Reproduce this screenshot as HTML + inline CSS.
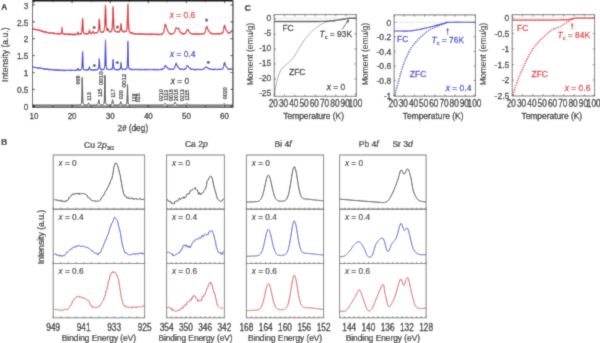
<!DOCTYPE html>
<html><head><meta charset="utf-8"><style>
html,body{margin:0;padding:0;background:#fff;}
svg{display:block;}
text{font-family:"Liberation Sans",sans-serif;}
</style></head><body>
<svg width="600" height="343" viewBox="0 0 600 343">
<defs><filter id="bl" x="0" y="0" width="600" height="343" filterUnits="userSpaceOnUse"><feConvolveMatrix order="3" kernelMatrix="1 3 1 3 16 3 1 3 1" divisor="32.0" edgeMode="duplicate"/></filter></defs>
<rect x="0" y="0" width="600" height="343" fill="#fff"/>
<g filter="url(#bl)">
<rect x="0" y="0" width="600" height="343" fill="#fff"/>
<text transform="translate(1.3 9.7) scale(0.92 1)" font-size="9.0" text-anchor="start" fill="#111" font-weight="bold" stroke="#111" stroke-width="0.24">A</text>
<line x1="32.5" y1="106" x2="232.9" y2="106" stroke="#b0b0b0" stroke-width="1.9"/>
<path d="M33 104.96 L33.3 104.91 L33.6 105.03 L33.9 104.9 L34.2 105.01 L34.5 104.97 L34.8 104.89 L35.1 105 L35.4 104.89 L35.7 104.98 L36 104.9 L36.3 104.9 L36.6 104.98 L36.9 105.08 L37.2 104.91 L37.5 104.93 L37.8 105.03 L38.1 105.11 L38.4 105.02 L38.7 104.97 L39 105.11 L39.3 104.89 L39.6 105.08 L39.9 104.95 L40.2 104.91 L40.5 104.91 L40.8 104.95 L41.1 105.07 L41.4 104.92 L41.7 105.02 L42 105.03 L42.3 104.97 L42.6 105.01 L42.9 104.89 L43.2 104.89 L43.5 104.93 L43.8 105.04 L44.1 104.98 L44.4 104.95 L44.7 105.02 L45 104.99 L45.3 104.95 L45.6 105.07 L45.9 105.05 L46.2 104.94 L46.5 105.02 L46.8 105 L47.1 105.09 L47.4 105.05 L47.7 104.95 L48 105.11 L48.3 104.91 L48.6 104.98 L48.9 105.06 L49.2 104.91 L49.5 104.99 L49.8 104.89 L50.1 105.04 L50.4 105.06 L50.7 105.01 L51 105.09 L51.3 104.95 L51.6 105.04 L51.9 105.02 L52.2 105.02 L52.5 104.99 L52.8 105.08 L53.1 105.1 L53.4 104.99 L53.7 105.04 L54 104.89 L54.3 105.05 L54.6 105.03 L54.9 105.12 L55.2 105.07 L55.5 104.94 L55.8 104.97 L56.1 105.04 L56.4 104.88 L56.7 104.99 L57 104.92 L57.3 104.9 L57.6 104.89 L57.9 105.06 L58.2 104.91 L58.5 104.94 L58.8 104.97 L59.1 105.08 L59.4 104.9 L59.7 104.98 L60 105.01 L60.3 105.09 L60.6 105.07 L60.9 105.08 L61.2 104.94 L61.5 104.97 L61.8 104.96 L62.1 105.09 L62.4 105.1 L62.7 104.91 L63 104.92 L63.3 104.93 L63.6 104.93 L63.9 104.99 L64.2 105.02 L64.5 104.94 L64.8 104.87 L65.1 104.97 L65.4 104.96 L65.7 105.01 L66 105.1 L66.3 105.04 L66.6 105 L66.9 105.02 L67.2 105.03 L67.5 104.88 L67.8 105.09 L68.1 105.06 L68.4 105.08 L68.7 105.06 L69 104.96 L69.3 104.97 L69.6 104.89 L69.9 105.02 L70.2 104.88 L70.5 104.88 L70.8 104.92 L71.1 104.91 L71.4 104.95 L71.7 104.88 L72 104.86 L72.3 104.9 L72.6 104.89 L72.9 104.95 L73.2 104.87 L73.5 105.07 L73.8 105.01 L74.1 104.89 L74.4 104.92 L74.7 104.94 L75 104.94 L75.3 104.88 L75.6 105.05 L75.9 105.08 L76.2 104.95 L76.5 104.95 L76.8 104.85 L77.1 104.85 L77.4 104.91 L77.7 104.88 L78 105.01 L78.3 104.84 L78.6 104.79 L78.9 105 L79.2 104.87 L79.5 104.75 L79.8 104.81 L80.1 104.63 L80.4 104.67 L80.7 104.65 L81 104.39 L81.3 103.91 L81.6 102.46 L81.9 95.28 L82.2 77.48 L82.5 83.58 L82.8 99.01 L83.1 103.27 L83.4 104.01 L83.7 104.32 L84 104.65 L84.3 104.8 L84.6 104.84 L84.9 104.87 L85.2 104.91 L85.5 104.91 L85.8 104.8 L86.1 104.88 L86.4 104.84 L86.7 104.76 L87 104.74 L87.3 104.77 L87.6 104.68 L87.9 104.51 L88.2 103.96 L88.5 103.01 L88.8 102.93 L89.1 103.7 L89.4 104.42 L89.7 104.66 L90 104.76 L90.3 104.81 L90.6 104.83 L90.9 104.84 L91.2 104.96 L91.5 105.03 L91.8 105.02 L92.1 104.94 L92.4 104.98 L92.7 105.02 L93 104.85 L93.3 104.98 L93.6 105.04 L93.9 105.01 L94.2 105 L94.5 104.93 L94.8 104.85 L95.1 104.99 L95.4 104.88 L95.7 104.98 L96 105.01 L96.3 104.85 L96.6 104.82 L96.9 104.91 L97.2 104.8 L97.5 104.54 L97.8 104.19 L98.1 103.26 L98.4 101.6 L98.7 99.71 L99 100.02 L99.3 102.27 L99.6 103.85 L99.9 104.44 L100.2 104.6 L100.5 104.73 L100.8 104.68 L101.1 104.67 L101.4 104.91 L101.7 104.83 L102 104.78 L102.3 104.85 L102.6 104.69 L102.9 104.72 L103.2 104.59 L103.5 104.25 L103.8 103.89 L104.1 102.99 L104.4 98.46 L104.7 81.87 L105 75.38 L105.3 94.53 L105.6 102.21 L105.9 103.86 L106.2 104.2 L106.5 104.46 L106.8 104.63 L107.1 104.8 L107.4 104.74 L107.7 104.89 L108 104.82 L108.3 104.85 L108.6 104.86 L108.9 104.74 L109.2 104.85 L109.5 104.79 L109.8 104.74 L110.1 104.91 L110.4 104.74 L110.7 104.78 L111 104.78 L111.3 104.62 L111.6 104.23 L111.9 103.35 L112.2 101.52 L112.5 99.71 L112.8 100.03 L113.1 102.23 L113.4 103.7 L113.7 104.38 L114 104.74 L114.3 104.77 L114.6 104.84 L114.9 104.92 L115.2 104.98 L115.5 104.88 L115.8 104.93 L116.1 104.91 L116.4 104.92 L116.7 104.97 L117 104.91 L117.3 104.93 L117.6 104.91 L117.9 105.02 L118.2 104.95 L118.5 104.98 L118.8 104.97 L119.1 104.77 L119.4 104.78 L119.7 104.69 L120 104.16 L120.3 102.91 L120.6 101.62 L120.9 101.7 L121.2 102.89 L121.5 104.01 L121.8 104.48 L122.1 104.8 L122.4 104.89 L122.7 104.95 L123 104.79 L123.3 104.93 L123.6 104.92 L123.9 104.8 L124.2 104.97 L124.5 104.98 L124.8 104.78 L125.1 104.93 L125.4 104.76 L125.7 104.72 L126 104.73 L126.3 104.51 L126.6 103.94 L126.9 102.38 L127.2 94.59 L127.5 84.15 L127.8 94.51 L128.1 102.35 L128.4 104.08 L128.7 104.32 L129 104.64 L129.3 104.72 L129.6 104.69 L129.9 104.8 L130.2 104.9 L130.5 104.9 L130.8 104.81 L131.1 105.04 L131.4 105 L131.7 105.06 L132 104.85 L132.3 104.9 L132.6 104.85 L132.9 105.03 L133.2 104.91 L133.5 104.88 L133.8 104.95 L134.1 105.07 L134.4 105.05 L134.7 104.92 L135 104.89 L135.3 105.08 L135.6 105 L135.9 105.03 L136.2 104.88 L136.5 104.88 L136.8 105.03 L137.1 104.97 L137.4 104.88 L137.7 105.09 L138 105.02 L138.3 105.06 L138.6 104.89 L138.9 105.07 L139.2 104.88 L139.5 105.08 L139.8 104.98 L140.1 104.95 L140.4 105 L140.7 105.09 L141 104.93 L141.3 104.9 L141.6 105 L141.9 104.93 L142.2 104.9 L142.5 104.91 L142.8 104.88 L143.1 104.92 L143.4 104.95 L143.7 104.94 L144 105.05 L144.3 104.94 L144.6 104.99 L144.9 104.91 L145.2 104.96 L145.5 104.88 L145.8 104.93 L146.1 104.88 L146.4 105.05 L146.7 105 L147 104.92 L147.3 104.99 L147.6 105.1 L147.9 104.9 L148.2 105.07 L148.5 104.98 L148.8 104.99 L149.1 105.07 L149.4 104.97 L149.7 104.99 L150 105.04 L150.3 105.11 L150.6 104.95 L150.9 105.07 L151.2 105.04 L151.5 105.02 L151.8 104.97 L152.1 104.95 L152.4 104.88 L152.7 104.9 L153 104.89 L153.3 105.05 L153.6 104.93 L153.9 104.91 L154.2 104.89 L154.5 105.07 L154.8 105.08 L155.1 105.03 L155.4 104.94 L155.7 104.93 L156 104.94 L156.3 104.98 L156.6 104.9 L156.9 104.97 L157.2 104.93 L157.5 105.1 L157.8 105.1 L158.1 104.99 L158.4 104.92 L158.7 105.09 L159 104.93 L159.3 104.94 L159.6 104.85 L159.9 104.94 L160.2 104.96 L160.5 104.97 L160.8 104.89 L161.1 104.96 L161.4 104.83 L161.7 104.89 L162 104.83 L162.3 104.9 L162.6 104.79 L162.9 104.75 L163.2 104.76 L163.5 104.63 L163.8 104.5 L164.1 104.14 L164.4 103.73 L164.7 103.24 L165 103.04 L165.3 103.29 L165.6 103.64 L165.9 104.09 L166.2 104.59 L166.5 104.61 L166.8 104.86 L167.1 104.9 L167.4 104.78 L167.7 104.99 L168 105.02 L168.3 104.96 L168.6 104.99 L168.9 105.01 L169.2 104.86 L169.5 104.95 L169.8 104.94 L170.1 105.02 L170.4 105.01 L170.7 105.02 L171 104.95 L171.3 105.02 L171.6 104.96 L171.9 104.95 L172.2 104.83 L172.5 104.75 L172.8 104.74 L173.1 104.73 L173.4 104.54 L173.7 104.48 L174 103.99 L174.3 103.4 L174.6 102.72 L174.9 102.27 L175.2 102.33 L175.5 102.79 L175.8 103.66 L176.1 104.2 L176.4 104.5 L176.7 104.7 L177 104.83 L177.3 104.74 L177.6 104.94 L177.9 104.84 L178.2 104.81 L178.5 104.87 L178.8 104.99 L179.1 104.87 L179.4 105.01 L179.7 105.07 L180 104.95 L180.3 104.93 L180.6 104.95 L180.9 105.01 L181.2 105.03 L181.5 104.99 L181.8 105 L182.1 104.86 L182.4 104.88 L182.7 104.9 L183 105.01 L183.3 104.9 L183.6 104.96 L183.9 104.82 L184.2 104.82 L184.5 104.85 L184.8 104.91 L185.1 104.85 L185.4 104.71 L185.7 104.4 L186 104.13 L186.3 103.75 L186.6 103.5 L186.9 103.48 L187.2 103.97 L187.5 104.17 L187.8 104.65 L188.1 104.83 L188.4 104.72 L188.7 104.88 L189 104.99 L189.3 105.05 L189.6 104.93 L189.9 104.9 L190.2 104.89 L190.5 105.07 L190.8 104.9 L191.1 104.99 L191.4 104.89 L191.7 104.98 L192 105.09 L192.3 104.89 L192.6 105.06 L192.9 104.99 L193.2 105.08 L193.5 105.04 L193.8 104.92 L194.1 105.08 L194.4 104.99 L194.7 104.88 L195 104.87 L195.3 104.99 L195.6 104.98 L195.9 104.94 L196.2 104.91 L196.5 104.95 L196.8 104.95 L197.1 105.07 L197.4 104.87 L197.7 105.05 L198 105.07 L198.3 104.9 L198.6 105.1 L198.9 105.05 L199.2 105.09 L199.5 104.94 L199.8 104.96 L200.1 104.97 L200.4 105.11 L200.7 105.02 L201 104.96 L201.3 104.98 L201.6 104.94 L201.9 104.89 L202.2 104.9 L202.5 105.08 L202.8 104.94 L203.1 105.1 L203.4 104.94 L203.7 104.94 L204 105 L204.3 104.92 L204.6 104.97 L204.9 105.11 L205.2 105.09 L205.5 105.07 L205.8 105.03 L206.1 105.1 L206.4 105.1 L206.7 105.01 L207 105.05 L207.3 104.89 L207.6 105.05 L207.9 104.98 L208.2 105.06 L208.5 105.03 L208.8 104.94 L209.1 104.89 L209.4 105.1 L209.7 104.91 L210 104.99 L210.3 104.96 L210.6 104.95 L210.9 105.05 L211.2 105.11 L211.5 104.94 L211.8 105.03 L212.1 104.95 L212.4 105.01 L212.7 104.97 L213 104.91 L213.3 104.91 L213.6 104.92 L213.9 105.09 L214.2 104.99 L214.5 104.93 L214.8 105.09 L215.1 105.11 L215.4 104.98 L215.7 104.91 L216 104.92 L216.3 104.89 L216.6 104.95 L216.9 104.89 L217.2 104.93 L217.5 104.93 L217.8 105 L218.1 105.08 L218.4 105.05 L218.7 104.96 L219 104.96 L219.3 104.99 L219.6 104.95 L219.9 104.94 L220.2 104.87 L220.5 104.92 L220.8 105.08 L221.1 104.87 L221.4 104.95 L221.7 104.97 L222 105 L222.3 104.81 L222.6 104.76 L222.9 104.62 L223.2 104.43 L223.5 104.12 L223.8 103.87 L224.1 103.6 L224.4 103.66 L224.7 103.77 L225 104.14 L225.3 104.59 L225.6 104.83 L225.9 104.83 L226.2 104.92 L226.5 104.8 L226.8 104.91 L227.1 105.05 L227.4 105.04 L227.7 105.05 L228 105.08 L228.3 104.91 L228.6 104.88 L228.9 104.9 L229.2 104.99 L229.5 105.03 L229.8 105.09 L230.1 105.04 L230.4 105.02 L230.7 105.05 L231 104.98 L231.3 105 L231.6 104.88 L231.9 105.06 L232.2 104.93" fill="none" stroke="#2a2a2a" stroke-width="0.9" stroke-linejoin="round"/>
<path d="M33 67.49 L33.25 67.34 L33.5 67.13 L33.75 67.05 L34 67.17 L34.25 67.47 L34.5 67.55 L34.75 67.18 L35 67.19 L35.25 67.54 L35.5 67.62 L35.75 67.52 L36 67.44 L36.25 67.74 L36.5 67.36 L36.75 67.6 L37 67.75 L37.25 68.13 L37.5 67.95 L37.75 68.15 L38 67.9 L38.25 67.77 L38.5 67.82 L38.75 68.35 L39 68.21 L39.25 67.97 L39.5 67.8 L39.75 68.17 L40 68.33 L40.25 68.19 L40.5 68.11 L40.75 68.44 L41 68.65 L41.25 68.2 L41.5 68.1 L41.75 68.35 L42 68.44 L42.25 68.66 L42.5 68.36 L42.75 68.82 L43 68.81 L43.25 68.68 L43.5 68.51 L43.75 69.08 L44 68.66 L44.25 69.05 L44.5 68.67 L44.75 68.7 L45 69.12 L45.25 68.83 L45.5 69.32 L45.75 69.04 L46 68.86 L46.25 68.92 L46.5 69.09 L46.75 69.3 L47 69.54 L47.25 69.01 L47.5 69.22 L47.75 69.12 L48 69.67 L48.25 69.11 L48.5 69.06 L48.75 69.09 L49 69.34 L49.25 69.71 L49.5 69.72 L49.75 69.64 L50 69.84 L50.25 69.82 L50.5 69.42 L50.75 69.34 L51 69.88 L51.25 69.77 L51.5 69.29 L51.75 69.75 L52 69.57 L52.25 69.59 L52.5 69.58 L52.75 69.48 L53 69.39 L53.25 69.6 L53.5 69.67 L53.75 70.11 L54 69.55 L54.25 70.16 L54.5 69.65 L54.75 69.77 L55 70.12 L55.25 70.14 L55.5 69.89 L55.75 69.64 L56 69.96 L56.25 69.91 L56.5 70.31 L56.75 69.82 L57 69.96 L57.25 70.35 L57.5 69.77 L57.75 70.05 L58 70.35 L58.25 70.34 L58.5 69.85 L58.75 69.87 L59 69.91 L59.25 70.53 L59.5 70.08 L59.75 70.45 L60 70.57 L60.25 70.18 L60.5 70.14 L60.75 70.62 L61 70.38 L61.25 70.13 L61.5 70.45 L61.75 70.17 L62 70.15 L62.25 69.96 L62.5 70.49 L62.75 70.6 L63 70.4 L63.25 70.62 L63.5 69.98 L63.75 70.13 L64 70.3 L64.25 70.64 L64.5 70.64 L64.75 70.24 L65 70.15 L65.25 70.27 L65.5 70.32 L65.75 70.62 L66 70.1 L66.25 70.54 L66.5 70.49 L66.75 70.56 L67 70.52 L67.25 70.41 L67.5 70.21 L67.75 70.21 L68 70.24 L68.25 70.53 L68.5 70.04 L68.75 70.13 L69 70.52 L69.25 70.16 L69.5 70.04 L69.75 70.02 L70 70.38 L70.25 70.22 L70.5 70.68 L70.75 70.61 L71 70.69 L71.25 70.18 L71.5 70.06 L71.75 70.07 L72 70.35 L72.25 70.5 L72.5 70.31 L72.75 70.16 L73 70.29 L73.25 70.44 L73.5 70.47 L73.75 70.52 L74 70.59 L74.25 70.46 L74.5 70.08 L74.75 70.58 L75 70.2 L75.25 70.39 L75.5 70.25 L75.75 70.5 L76 70.11 L76.25 70.14 L76.5 70.12 L76.75 70.03 L77 70.49 L77.25 70.12 L77.5 69.48 L77.75 68.61 L78 68.35 L78.25 68.66 L78.5 69.36 L78.75 70.2 L79 70.22 L79.25 70.48 L79.5 69.86 L79.75 70.1 L80 70.32 L80.25 70.3 L80.5 70.29 L80.75 69.6 L81 69.66 L81.25 69.36 L81.5 69.09 L81.75 68.84 L82 65.99 L82.25 59.81 L82.5 51.29 L82.75 52.92 L83 61.08 L83.25 66.5 L83.5 68.9 L83.75 69.65 L84 69.32 L84.25 69.82 L84.5 69.93 L84.75 69.71 L85 69.86 L85.25 69.73 L85.5 69.8 L85.75 69.84 L86 70.09 L86.25 70.13 L86.5 69.82 L86.75 69.68 L87 69.9 L87.25 70.14 L87.5 69.78 L87.75 69.85 L88 69.74 L88.25 70.1 L88.5 69.82 L88.75 69.11 L89 68.16 L89.25 66.88 L89.5 66.76 L89.75 68.24 L90 68.97 L90.25 69.47 L90.5 69.97 L90.75 69.82 L91 69.76 L91.25 69.79 L91.5 70.25 L91.75 69.8 L92 69.98 L92.25 69.83 L92.5 69.87 L92.75 70.18 L93 70.26 L93.25 69.81 L93.5 69.69 L93.75 70.06 L94 69.68 L94.25 69.53 L94.5 70.15 L94.75 69.81 L95 70.07 L95.25 69.77 L95.5 70.09 L95.75 69.78 L96 69.56 L96.25 69.43 L96.5 69.79 L96.75 69.82 L97 69.97 L97.25 69.36 L97.5 69.67 L97.75 69.41 L98 69.37 L98.25 68.86 L98.5 68.24 L98.75 66.4 L99 62.76 L99.25 58.62 L99.5 60.67 L99.75 65.2 L100 68.07 L100.25 68.62 L100.5 68.93 L100.75 69.65 L101 69.76 L101.25 69.46 L101.5 69.19 L101.75 69.81 L102 69.44 L102.25 69.79 L102.5 69.57 L102.75 69.69 L103 69.18 L103.25 69.56 L103.5 69.08 L103.75 69.08 L104 69.19 L104.25 68.87 L104.5 67.78 L104.75 65.93 L105 60.28 L105.25 48.73 L105.5 40.14 L105.75 48.45 L106 60.17 L106.25 66.29 L106.5 68.27 L106.75 68.31 L107 68.99 L107.25 69.32 L107.5 68.94 L107.75 69.59 L108 69.15 L108.25 69.53 L108.5 69.53 L108.75 69.6 L109 69.4 L109.25 69.49 L109.5 69.61 L109.75 69.5 L110 69.66 L110.25 69.51 L110.5 69.49 L110.75 69.18 L111 69.57 L111.25 69.44 L111.5 69.19 L111.75 69.46 L112 69.27 L112.25 68.5 L112.5 66.73 L112.75 63.53 L113 59.41 L113.25 60.01 L113.5 64.32 L113.75 67.12 L114 68.65 L114.25 69.13 L114.5 68.98 L114.75 69.49 L115 69.16 L115.25 69.66 L115.5 69.72 L115.75 69.55 L116 69.25 L116.25 69.57 L116.5 69.49 L116.75 69.9 L117 69.33 L117.25 69.83 L117.5 69.93 L117.75 69.74 L118 69.79 L118.25 69.35 L118.5 69.89 L118.75 69.53 L119 69.83 L119.25 69.76 L119.5 69.18 L119.75 69.53 L120 69.43 L120.25 68.26 L120.5 66.95 L120.75 64.57 L121 62.37 L121.25 64.66 L121.5 66.88 L121.75 68.77 L122 68.85 L122.25 69.29 L122.5 69.67 L122.75 69.21 L123 69.28 L123.25 69.47 L123.5 69.34 L123.75 69.15 L124 69.24 L124.25 69.22 L124.5 69.74 L124.75 69.54 L125 69.66 L125.25 69.11 L125.5 69.49 L125.75 68.95 L126 69.13 L126.25 69.05 L126.5 68.61 L126.75 68.56 L127 67.36 L127.25 64.26 L127.5 55.99 L127.75 42.55 L128 41.2 L128.25 53.34 L128.5 62.96 L128.75 67.17 L129 68 L129.25 68.98 L129.5 68.96 L129.75 68.98 L130 69.38 L130.25 69.23 L130.5 69.11 L130.75 69.55 L131 69.09 L131.25 69.66 L131.5 69.29 L131.75 69.57 L132 69.83 L132.25 69.56 L132.5 69.62 L132.75 69.39 L133 69.17 L133.25 69.2 L133.5 69.29 L133.75 69.62 L134 69.49 L134.25 69.55 L134.5 69.82 L134.75 69.29 L135 69.36 L135.25 69.66 L135.5 69.22 L135.75 69.21 L136 69.46 L136.25 69.28 L136.5 69.46 L136.75 69.37 L137 69.62 L137.25 69.63 L137.5 69.36 L137.75 69.65 L138 69.55 L138.25 69.31 L138.5 69.87 L138.75 69.39 L139 69.32 L139.25 69.29 L139.5 69.67 L139.75 69.83 L140 69.77 L140.25 69.5 L140.5 69.41 L140.75 69.23 L141 69.68 L141.25 69.62 L141.5 69.47 L141.75 69.68 L142 69.54 L142.25 69.88 L142.5 69.74 L142.75 69.4 L143 69.86 L143.25 69.26 L143.5 69.6 L143.75 69.51 L144 69.39 L144.25 69.27 L144.5 69.77 L144.75 69.24 L145 69.61 L145.25 69.89 L145.5 69.33 L145.75 69.37 L146 69.65 L146.25 69.58 L146.5 69.68 L146.75 69.8 L147 69.35 L147.25 69.44 L147.5 69.44 L147.75 69.26 L148 69.85 L148.25 69.77 L148.5 69.73 L148.75 69.23 L149 69.82 L149.25 69.75 L149.5 69.55 L149.75 69.74 L150 69.54 L150.25 69.38 L150.5 69.3 L150.75 69.38 L151 69.25 L151.25 69.46 L151.5 69.75 L151.75 69.71 L152 69.81 L152.25 69.72 L152.5 69.4 L152.75 69.61 L153 69.52 L153.25 69.77 L153.5 69.58 L153.75 69.4 L154 69.66 L154.25 69.89 L154.5 69.36 L154.75 69.83 L155 69.22 L155.25 69.39 L155.5 69.37 L155.75 69.73 L156 69.86 L156.25 69.72 L156.5 69.43 L156.75 69.81 L157 69.43 L157.25 69.36 L157.5 69.83 L157.75 69.63 L158 69.67 L158.25 69.65 L158.5 69.86 L158.75 69.5 L159 69.76 L159.25 69.65 L159.5 69.76 L159.75 69.46 L160 69.65 L160.25 69.54 L160.5 69.35 L160.75 69.27 L161 69.55 L161.25 69.15 L161.5 69.72 L161.75 69.16 L162 69.06 L162.25 69.08 L162.5 69.62 L162.75 69.16 L163 68.93 L163.25 68.73 L163.5 68.54 L163.75 68.71 L164 68.26 L164.25 67.77 L164.5 67.16 L164.75 66.01 L165 65.78 L165.25 65.26 L165.5 65.58 L165.75 65.88 L166 66.37 L166.25 66.24 L166.5 67.18 L166.75 67.52 L167 67.79 L167.25 67.42 L167.5 67.72 L167.75 67.88 L168 68.04 L168.25 68.82 L168.5 68.98 L168.75 69.01 L169 69.27 L169.25 69.23 L169.5 69.06 L169.75 68.98 L170 69.01 L170.25 69.5 L170.5 69.13 L170.75 69.21 L171 69.29 L171.25 69.01 L171.5 69.17 L171.75 69.18 L172 69.47 L172.25 69.21 L172.5 69.15 L172.75 69.57 L173 69.21 L173.25 69.4 L173.5 69.16 L173.75 68.62 L174 68.69 L174.25 68.41 L174.5 68.2 L174.75 67.28 L175 66.72 L175.25 65.67 L175.5 64.47 L175.75 64.11 L176 63.15 L176.25 63.76 L176.5 63.8 L176.75 64.34 L177 65.11 L177.25 66.04 L177.5 66.61 L177.75 66.28 L178 66.94 L178.25 67.27 L178.5 67.81 L178.75 67.7 L179 68.22 L179.25 68.37 L179.5 68.93 L179.75 68.71 L180 69.32 L180.25 68.97 L180.5 68.99 L180.75 69.39 L181 69.28 L181.25 69.04 L181.5 69.43 L181.75 69.05 L182 69.56 L182.25 69.5 L182.5 69.57 L182.75 69.46 L183 69.26 L183.25 69.29 L183.5 69.28 L183.75 69.61 L184 69.03 L184.25 69.57 L184.5 68.93 L184.75 69.01 L185 68.97 L185.25 69.3 L185.5 68.83 L185.75 68.46 L186 68.41 L186.25 67.42 L186.5 66.95 L186.75 66.32 L187 65.88 L187.25 65.52 L187.5 65.45 L187.75 65.54 L188 65.97 L188.25 66.3 L188.5 67.17 L188.75 67.35 L189 67.65 L189.25 67.48 L189.5 67.89 L189.75 68.36 L190 68.45 L190.25 68.34 L190.5 68.76 L190.75 69.22 L191 68.89 L191.25 68.96 L191.5 69.12 L191.75 69.46 L192 69.6 L192.25 69.15 L192.5 69.17 L192.75 69.25 L193 69.32 L193.25 69.47 L193.5 69.23 L193.75 69.35 L194 69.26 L194.25 69.82 L194.5 69.65 L194.75 69.22 L195 69.82 L195.25 69.22 L195.5 69.42 L195.75 69.85 L196 69.71 L196.25 69.67 L196.5 69.47 L196.75 69.3 L197 69.61 L197.25 69.24 L197.5 69.31 L197.75 69.43 L198 69.18 L198.25 69.44 L198.5 69.71 L198.75 69.64 L199 69.5 L199.25 69.59 L199.5 69.47 L199.75 69.24 L200 69.56 L200.25 69.42 L200.5 69.64 L200.75 69.75 L201 69.41 L201.25 69.5 L201.5 69.61 L201.75 69.36 L202 69.21 L202.25 69.53 L202.5 69.6 L202.75 69.49 L203 69.38 L203.25 69.4 L203.5 69.18 L203.75 69.03 L204 68.73 L204.25 68.44 L204.5 68.43 L204.75 67.8 L205 67.76 L205.25 67.74 L205.5 67.45 L205.75 67.2 L206 66.83 L206.25 66.93 L206.5 67.02 L206.75 67.27 L207 67.29 L207.25 67.66 L207.5 68.03 L207.75 67.7 L208 68.21 L208.25 68.46 L208.5 68.35 L208.75 68.56 L209 69.03 L209.25 68.48 L209.5 68.94 L209.75 68.75 L210 69.26 L210.25 69.44 L210.5 69.2 L210.75 68.95 L211 69.32 L211.25 69.33 L211.5 69.48 L211.75 69.36 L212 69.46 L212.25 69.61 L212.5 69.4 L212.75 69.33 L213 69.72 L213.25 69.2 L213.5 69.54 L213.75 69.34 L214 69.6 L214.25 69.15 L214.5 69.76 L214.75 69.32 L215 69.11 L215.25 69.26 L215.5 69.35 L215.75 69.08 L216 69.36 L216.25 69.36 L216.5 69.55 L216.75 69.31 L217 69.24 L217.25 69.21 L217.5 69.57 L217.75 69.71 L218 69.41 L218.25 69.19 L218.5 69.59 L218.75 69.3 L219 69.17 L219.25 69.1 L219.5 69.55 L219.75 69.56 L220 69.43 L220.25 69.3 L220.5 69.35 L220.75 69.09 L221 69.59 L221.25 69.13 L221.5 69.3 L221.75 69.38 L222 69.33 L222.25 69.01 L222.5 68.77 L222.75 68.75 L223 68.11 L223.25 68.04 L223.5 66.83 L223.75 65.99 L224 64.19 L224.25 63 L224.5 62.29 L224.75 62.74 L225 63.51 L225.25 64.41 L225.5 65.72 L225.75 65.89 L226 66.12 L226.25 66.34 L226.5 66.71 L226.75 67.03 L227 67.59 L227.25 68.02 L227.5 68.17 L227.75 68.86 L228 69.03 L228.25 68.63 L228.5 69.28 L228.75 69.41 L229 69.37 L229.25 68.95 L229.5 69.46 L229.75 69.34 L230 68.93 L230.25 68.94 L230.5 69.6 L230.75 69.41 L231 69.13 L231.25 69.03 L231.5 69.07 L231.75 69.13 L232 69.52 L232.25 69.22" fill="none" stroke="#3434d4" stroke-width="1.1" stroke-linejoin="round"/>
<path d="M33 28.38 L33.25 29.13 L33.5 29.09 L33.75 28.6 L34 29.32 L34.25 29.13 L34.5 29.35 L34.75 29.32 L35 29.59 L35.25 29.56 L35.5 29.67 L35.75 29.16 L36 29.68 L36.25 29.6 L36.5 29.85 L36.75 29.65 L37 30.11 L37.25 29.89 L37.5 29.69 L37.75 29.73 L38 29.71 L38.25 30.1 L38.5 29.78 L38.75 30.21 L39 29.99 L39.25 30.37 L39.5 30.44 L39.75 30.55 L40 30.9 L40.25 30.2 L40.5 31.02 L40.75 30.75 L41 30.9 L41.25 31.06 L41.5 31.29 L41.75 30.93 L42 31.04 L42.25 31.6 L42.5 30.87 L42.75 31.44 L43 31.51 L43.25 31.03 L43.5 31.62 L43.75 31.75 L44 32.04 L44.25 31.57 L44.5 32.22 L44.75 31.86 L45 31.91 L45.25 32.35 L45.5 31.64 L45.75 32.32 L46 32.3 L46.25 32.11 L46.5 32.65 L46.75 32.27 L47 32.43 L47.25 32.55 L47.5 32.84 L47.75 32.36 L48 32.59 L48.25 32.61 L48.5 32.75 L48.75 33.03 L49 32.57 L49.25 33.08 L49.5 32.73 L49.75 32.85 L50 32.67 L50.25 32.9 L50.5 33.35 L50.75 33.09 L51 33.24 L51.25 32.86 L51.5 32.87 L51.75 32.88 L52 33.17 L52.25 33.24 L52.5 33.4 L52.75 32.76 L53 33.4 L53.25 33.58 L53.5 33.3 L53.75 32.88 L54 33.14 L54.25 32.9 L54.5 33.09 L54.75 33.78 L55 33.52 L55.25 33.6 L55.5 33.74 L55.75 33.88 L56 33.64 L56.25 33.67 L56.5 33.7 L56.75 33.79 L57 33.73 L57.25 33.83 L57.5 33.44 L57.75 33.87 L58 33.71 L58.25 34.01 L58.5 33.44 L58.75 33.54 L59 33.43 L59.25 34.12 L59.5 34.26 L59.75 34.05 L60 33.8 L60.25 34.2 L60.5 34.15 L60.75 33.9 L61 33.55 L61.25 33.37 L61.5 32.58 L61.75 29.84 L62 27.5 L62.25 30.15 L62.5 33.08 L62.75 33.21 L63 33.91 L63.25 33.53 L63.5 33.66 L63.75 34.33 L64 34.14 L64.25 34.48 L64.5 34.07 L64.75 33.7 L65 34.05 L65.25 34.25 L65.5 34.57 L65.75 34.63 L66 34.18 L66.25 34.14 L66.5 33.87 L66.75 34.37 L67 33.99 L67.25 33.95 L67.5 33.84 L67.75 33.84 L68 34.46 L68.25 33.96 L68.5 34.73 L68.75 33.95 L69 34.66 L69.25 34.01 L69.5 33.92 L69.75 34.56 L70 34.14 L70.25 34.59 L70.5 34.11 L70.75 33.99 L71 34.66 L71.25 34.61 L71.5 34.75 L71.75 34.64 L72 34.07 L72.25 34.57 L72.5 34.65 L72.75 34.44 L73 34.87 L73.25 34.27 L73.5 34.91 L73.75 34.7 L74 34.07 L74.25 34.08 L74.5 34.66 L74.75 34.82 L75 34.16 L75.25 34.35 L75.5 34.71 L75.75 34.18 L76 34.78 L76.25 34.41 L76.5 34 L76.75 34.23 L77 34.34 L77.25 34.04 L77.5 33.75 L77.75 32.26 L78 32.11 L78.25 32.42 L78.5 33.63 L78.75 34.08 L79 34.02 L79.25 34.01 L79.5 34.37 L79.75 34.48 L80 34.3 L80.25 34.04 L80.5 33.72 L80.75 33.41 L81 34.08 L81.25 33.59 L81.5 33.19 L81.75 31.44 L82 28.63 L82.25 23.73 L82.5 18.57 L82.75 19.07 L83 24.26 L83.25 29.2 L83.5 32.21 L83.75 32.8 L84 33.49 L84.25 33.6 L84.5 33.98 L84.75 33.97 L85 33.55 L85.25 33.33 L85.5 33.58 L85.75 33.73 L86 33.88 L86.25 34.09 L86.5 34.15 L86.75 33.37 L87 34.07 L87.25 34.03 L87.5 34.05 L87.75 33.75 L88 33.42 L88.25 33.81 L88.5 33.49 L88.75 32.77 L89 31.95 L89.25 30.35 L89.5 29.97 L89.75 31.34 L90 32.62 L90.25 32.74 L90.5 33.53 L90.75 33.79 L91 33.18 L91.25 33.51 L91.5 33.54 L91.75 33.29 L92 32.93 L92.25 32.67 L92.5 32.55 L92.75 31.85 L93 31.14 L93.25 31.17 L93.5 32.51 L93.75 32.99 L94 32.75 L94.25 33.15 L94.5 33.46 L94.75 33.44 L95 33.09 L95.25 33.03 L95.5 33.1 L95.75 32.7 L96 32.66 L96.25 32.61 L96.5 33.03 L96.75 32.66 L97 32.77 L97.25 32.52 L97.5 32.5 L97.75 31.97 L98 31.53 L98.25 31.6 L98.5 29.31 L98.75 25.88 L99 22.06 L99.25 19.18 L99.5 20.01 L99.75 24.56 L100 28.05 L100.25 30.43 L100.5 31.01 L100.75 31.44 L101 32.49 L101.25 32.46 L101.5 32.17 L101.75 32.25 L102 31.97 L102.25 32.41 L102.5 32.04 L102.75 32.45 L103 32.19 L103.25 32.12 L103.5 32.08 L103.75 31.19 L104 30.61 L104.25 29.99 L104.5 28.2 L104.75 24.23 L105 17.38 L105.25 9.4 L105.5 5.21 L105.75 9.27 L106 18.11 L106.25 24.85 L106.5 27.91 L106.75 30.06 L107 30.44 L107.25 30.11 L107.5 30.22 L107.75 28.6 L108 28.34 L108.25 29.11 L108.5 30.58 L108.75 31.21 L109 31.42 L109.25 31.66 L109.5 31.47 L109.75 32.22 L110 32.23 L110.25 31.51 L110.5 31.29 L110.75 31.4 L111 31.36 L111.25 31.67 L111.5 31.39 L111.75 30.79 L112 28.87 L112.25 26.77 L112.5 21.28 L112.75 13.34 L113 6.93 L113.25 7 L113.5 14.55 L113.75 22.63 L114 27.62 L114.25 29.75 L114.5 30.42 L114.75 31.14 L115 31.55 L115.25 31.14 L115.5 31.45 L115.75 31.48 L116 31.42 L116.25 31.79 L116.5 31.54 L116.75 31.63 L117 31.56 L117.25 32.04 L117.5 31.45 L117.75 32.08 L118 31.6 L118.25 31.44 L118.5 32.22 L118.75 31.55 L119 32.14 L119.25 32.01 L119.5 31.91 L119.75 31 L120 30.72 L120.25 29.21 L120.5 27.85 L120.75 25.16 L121 23.58 L121.25 24.79 L121.5 27.28 L121.75 29.81 L122 30.69 L122.25 31.35 L122.5 31.14 L122.75 31.31 L123 31.22 L123.25 31.84 L123.5 31.71 L123.75 31.34 L124 31.99 L124.25 31.42 L124.5 31.53 L124.75 31.26 L125 31.31 L125.25 31.81 L125.5 31.32 L125.75 31.1 L126 31.27 L126.25 30.92 L126.5 31.07 L126.75 29.5 L127 28.09 L127.25 22.33 L127.5 14.72 L127.75 5.71 L128 4.23 L128.25 12.57 L128.5 21.37 L128.75 27.08 L129 29.75 L129.25 31.03 L129.5 32.14 L129.75 32.47 L130 32.65 L130.25 32.09 L130.5 32.41 L130.75 33.08 L131 32.43 L131.25 33.13 L131.5 32.83 L131.75 33.53 L132 32.74 L132.25 33.52 L132.5 33.17 L132.75 33.05 L133 32.99 L133.25 33.8 L133.5 33.59 L133.75 33.34 L134 33.62 L134.25 34.11 L134.5 33.54 L134.75 33.91 L135 33.58 L135.25 33.62 L135.5 34.17 L135.75 34.12 L136 33.67 L136.25 33.57 L136.5 33.59 L136.75 34.06 L137 33.97 L137.25 33.78 L137.5 33.73 L137.75 34.1 L138 34.19 L138.25 34.29 L138.5 34.1 L138.75 33.76 L139 33.65 L139.25 34.25 L139.5 33.97 L139.75 34.26 L140 33.66 L140.25 34.35 L140.5 33.93 L140.75 34.39 L141 34.42 L141.25 34.09 L141.5 33.67 L141.75 34.48 L142 34.1 L142.25 34.46 L142.5 33.92 L142.75 33.85 L143 34.44 L143.25 34.03 L143.5 33.85 L143.75 34.04 L144 34.25 L144.25 33.73 L144.5 34.2 L144.75 34.14 L145 34.2 L145.25 33.85 L145.5 34.39 L145.75 34.49 L146 34.54 L146.25 34.06 L146.5 34.41 L146.75 34.12 L147 34.46 L147.25 33.85 L147.5 34.58 L147.75 34.66 L148 34.25 L148.25 34.27 L148.5 34.3 L148.75 34.31 L149 33.85 L149.25 34.7 L149.5 34.04 L149.75 34.01 L150 33.94 L150.25 34.08 L150.5 34.59 L150.75 33.89 L151 33.96 L151.25 34.5 L151.5 34.05 L151.75 33.9 L152 34.43 L152.25 34.41 L152.5 34.37 L152.75 34.53 L153 34 L153.25 34.69 L153.5 34.56 L153.75 33.96 L154 34.03 L154.25 34.37 L154.5 34.38 L154.75 34.18 L155 34.04 L155.25 34.3 L155.5 34.06 L155.75 34.47 L156 34.71 L156.25 34.07 L156.5 34.46 L156.75 34.61 L157 34.09 L157.25 34.68 L157.5 34.78 L157.75 34.29 L158 34.32 L158.25 34.69 L158.5 34.4 L158.75 34.28 L159 34.77 L159.25 34.61 L159.5 34.21 L159.75 34.11 L160 34.18 L160.25 34.25 L160.5 34.71 L160.75 34.52 L161 34.58 L161.25 34.45 L161.5 34.43 L161.75 33.66 L162 34.01 L162.25 34.31 L162.5 34.16 L162.75 33.36 L163 33.25 L163.25 33.04 L163.5 32.21 L163.75 31.55 L164 30.07 L164.25 29.09 L164.5 27.65 L164.75 25.69 L165 24.48 L165.25 24.44 L165.5 24.2 L165.75 24.91 L166 25.57 L166.25 26.74 L166.5 27.75 L166.75 28.57 L167 28.51 L167.25 29.69 L167.5 29.96 L167.75 30.91 L168 31.09 L168.25 31.83 L168.5 32.63 L168.75 32.75 L169 32.74 L169.25 33.25 L169.5 33.38 L169.75 34.01 L170 33.53 L170.25 33.63 L170.5 34 L170.75 33.57 L171 34.02 L171.25 34.36 L171.5 33.97 L171.75 33.75 L172 33.92 L172.25 33.96 L172.5 33.59 L172.75 33.54 L173 33.49 L173.25 33.56 L173.5 33.55 L173.75 33.27 L174 32.97 L174.25 32.46 L174.5 32.36 L174.75 31.95 L175 30.93 L175.25 29.98 L175.5 29.14 L175.75 27.98 L176 28 L176.25 27.75 L176.5 28.1 L176.75 28.54 L177 28.73 L177.25 28.75 L177.5 28.67 L177.75 28.48 L178 28.51 L178.25 28.25 L178.5 28.51 L178.75 28.38 L179 29.28 L179.25 30.4 L179.5 30.46 L179.75 31.26 L180 31.61 L180.25 31.76 L180.5 32.68 L180.75 32.32 L181 33 L181.25 32.68 L181.5 32.81 L181.75 33.71 L182 33.46 L182.25 33.24 L182.5 33.62 L182.75 33.72 L183 34.03 L183.25 33.49 L183.5 33.6 L183.75 34.26 L184 34.04 L184.25 33.47 L184.5 33.58 L184.75 33.49 L185 33.64 L185.25 33.37 L185.5 33.29 L185.75 32.87 L186 32.1 L186.25 31.71 L186.5 31.08 L186.75 30.46 L187 29.67 L187.25 29.63 L187.5 29.52 L187.75 29.91 L188 29.57 L188.25 30.66 L188.5 30.31 L188.75 31.39 L189 31.58 L189.25 31.82 L189.5 32.54 L189.75 32.47 L190 32.59 L190.25 33.15 L190.5 33.45 L190.75 33.39 L191 33.35 L191.25 33.54 L191.5 33.66 L191.75 33.99 L192 33.67 L192.25 33.81 L192.5 34 L192.75 33.88 L193 33.85 L193.25 34.28 L193.5 34.35 L193.75 34.05 L194 34.01 L194.25 33.78 L194.5 33.89 L194.75 33.76 L195 34.15 L195.25 34.16 L195.5 33.71 L195.75 34.46 L196 33.93 L196.25 34.39 L196.5 34.39 L196.75 34.5 L197 33.82 L197.25 34.01 L197.5 34.45 L197.75 33.63 L198 33.66 L198.25 34.13 L198.5 34.06 L198.75 34.44 L199 34.3 L199.25 34.08 L199.5 34.49 L199.75 34.05 L200 34.04 L200.25 34.18 L200.5 33.9 L200.75 33.86 L201 34.06 L201.25 33.83 L201.5 34.35 L201.75 34.08 L202 33.92 L202.25 33.52 L202.5 33.73 L202.75 33.72 L203 33.83 L203.25 33.79 L203.5 34 L203.75 33.99 L204 33.44 L204.25 33.21 L204.5 33.11 L204.75 33.05 L205 31.91 L205.25 31.34 L205.5 30.67 L205.75 29.02 L206 28.03 L206.25 27.63 L206.5 26.82 L206.75 26.39 L207 26.36 L207.25 27.71 L207.5 28.26 L207.75 29.08 L208 29.85 L208.25 30.28 L208.5 30.33 L208.75 30.54 L209 31.08 L209.25 31.69 L209.5 32.05 L209.75 32.11 L210 32.4 L210.25 33.05 L210.5 33.23 L210.75 33.17 L211 33.88 L211.25 33.65 L211.5 33.19 L211.75 33.57 L212 33.95 L212.25 33.55 L212.5 33.92 L212.75 33.32 L213 33.6 L213.25 34.1 L213.5 33.87 L213.75 33.96 L214 33.54 L214.25 33.81 L214.5 33.86 L214.75 33.61 L215 33.95 L215.25 33.85 L215.5 34.27 L215.75 33.89 L216 33.74 L216.25 33.47 L216.5 33.5 L216.75 34.04 L217 33.45 L217.25 33.44 L217.5 33.5 L217.75 33.81 L218 34.07 L218.25 33.87 L218.5 34.04 L218.75 33.36 L219 33.3 L219.25 33.97 L219.5 33.55 L219.75 33.89 L220 33.54 L220.25 33.36 L220.5 33.42 L220.75 33.24 L221 33.93 L221.25 33.59 L221.5 33.33 L221.75 33.36 L222 33.21 L222.25 32.77 L222.5 33.31 L222.75 32.69 L223 32.48 L223.25 31.18 L223.5 30.19 L223.75 28.42 L224 26.66 L224.25 26.11 L224.5 25.36 L224.75 25.12 L225 26.55 L225.25 27.58 L225.5 28.09 L225.75 29.07 L226 29.88 L226.25 29.84 L226.5 30.63 L226.75 30.43 L227 31.05 L227.25 31.82 L227.5 31.8 L227.75 32.25 L228 33.06 L228.25 32.85 L228.5 33.21 L228.75 32.75 L229 32.68 L229.25 32.81 L229.5 32.6 L229.75 33.22 L230 32.49 L230.25 32.58 L230.5 31.98 L230.75 32.1 L231 31.65 L231.25 31.31 L231.5 30.63 L231.75 30.36 L232 30.79 L232.25 30.4" fill="none" stroke="#dd2a2e" stroke-width="1.25" stroke-linejoin="round"/>
<circle cx="94.2" cy="27.5" r="1.6" fill="#666"/>
<circle cx="117.4" cy="27.1" r="1.6" fill="#666"/>
<circle cx="206.6" cy="20.1" r="1.6" fill="#666"/>
<circle cx="94.4" cy="65.5" r="1.6" fill="#666"/>
<circle cx="117.3" cy="62.6" r="1.6" fill="#666"/>
<circle cx="208.3" cy="62.3" r="1.6" fill="#666"/>
<rect x="32.5" y="0.7" width="200.4" height="106.6" fill="none" stroke="#1a1a1a" stroke-width="1.0"/>
<line x1="32.5" y1="0.7" x2="232.9" y2="0.7" stroke="#111" stroke-width="1.5"/>
<line x1="232.9" y1="0.7" x2="232.9" y2="107.3" stroke="#666" stroke-width="1.1"/>
<line x1="34" y1="107.3" x2="34" y2="104.8" stroke="#222" stroke-width="0.9"/>
<line x1="34" y1="0.7" x2="34" y2="3.2" stroke="#222" stroke-width="0.9"/>
<line x1="53.05" y1="107.3" x2="53.05" y2="105.8" stroke="#222" stroke-width="0.9"/>
<line x1="53.05" y1="0.7" x2="53.05" y2="2.2" stroke="#222" stroke-width="0.9"/>
<line x1="72.1" y1="107.3" x2="72.1" y2="104.8" stroke="#222" stroke-width="0.9"/>
<line x1="72.1" y1="0.7" x2="72.1" y2="3.2" stroke="#222" stroke-width="0.9"/>
<line x1="91.15" y1="107.3" x2="91.15" y2="105.8" stroke="#222" stroke-width="0.9"/>
<line x1="91.15" y1="0.7" x2="91.15" y2="2.2" stroke="#222" stroke-width="0.9"/>
<line x1="110.2" y1="107.3" x2="110.2" y2="104.8" stroke="#222" stroke-width="0.9"/>
<line x1="110.2" y1="0.7" x2="110.2" y2="3.2" stroke="#222" stroke-width="0.9"/>
<line x1="129.25" y1="107.3" x2="129.25" y2="105.8" stroke="#222" stroke-width="0.9"/>
<line x1="129.25" y1="0.7" x2="129.25" y2="2.2" stroke="#222" stroke-width="0.9"/>
<line x1="148.3" y1="107.3" x2="148.3" y2="104.8" stroke="#222" stroke-width="0.9"/>
<line x1="148.3" y1="0.7" x2="148.3" y2="3.2" stroke="#222" stroke-width="0.9"/>
<line x1="167.35" y1="107.3" x2="167.35" y2="105.8" stroke="#222" stroke-width="0.9"/>
<line x1="167.35" y1="0.7" x2="167.35" y2="2.2" stroke="#222" stroke-width="0.9"/>
<line x1="186.4" y1="107.3" x2="186.4" y2="104.8" stroke="#222" stroke-width="0.9"/>
<line x1="186.4" y1="0.7" x2="186.4" y2="3.2" stroke="#222" stroke-width="0.9"/>
<line x1="205.45" y1="107.3" x2="205.45" y2="105.8" stroke="#222" stroke-width="0.9"/>
<line x1="205.45" y1="0.7" x2="205.45" y2="2.2" stroke="#222" stroke-width="0.9"/>
<line x1="224.5" y1="107.3" x2="224.5" y2="104.8" stroke="#222" stroke-width="0.9"/>
<line x1="224.5" y1="0.7" x2="224.5" y2="3.2" stroke="#222" stroke-width="0.9"/>
<line x1="32.5" y1="106.3" x2="35" y2="106.3" stroke="#222" stroke-width="0.9"/>
<line x1="232.9" y1="106.3" x2="230.4" y2="106.3" stroke="#222" stroke-width="0.9"/>
<text transform="translate(28.4 110) scale(1 1.12)" font-size="8.3" text-anchor="end" fill="#222" font-weight="normal" stroke="#222" stroke-width="0.24">0</text>
<line x1="32.5" y1="89.4" x2="35" y2="89.4" stroke="#222" stroke-width="0.9"/>
<line x1="232.9" y1="89.4" x2="230.4" y2="89.4" stroke="#222" stroke-width="0.9"/>
<text transform="translate(28.4 93.1) scale(1 1.12)" font-size="8.3" text-anchor="end" fill="#222" font-weight="normal" stroke="#222" stroke-width="0.24">0.5</text>
<line x1="32.5" y1="72.5" x2="35" y2="72.5" stroke="#222" stroke-width="0.9"/>
<line x1="232.9" y1="72.5" x2="230.4" y2="72.5" stroke="#222" stroke-width="0.9"/>
<text transform="translate(28.4 76.2) scale(1 1.12)" font-size="8.3" text-anchor="end" fill="#222" font-weight="normal" stroke="#222" stroke-width="0.24">1</text>
<line x1="32.5" y1="55.6" x2="35" y2="55.6" stroke="#222" stroke-width="0.9"/>
<line x1="232.9" y1="55.6" x2="230.4" y2="55.6" stroke="#222" stroke-width="0.9"/>
<text transform="translate(28.4 59.3) scale(1 1.12)" font-size="8.3" text-anchor="end" fill="#222" font-weight="normal" stroke="#222" stroke-width="0.24">1.5</text>
<line x1="32.5" y1="38.7" x2="35" y2="38.7" stroke="#222" stroke-width="0.9"/>
<line x1="232.9" y1="38.7" x2="230.4" y2="38.7" stroke="#222" stroke-width="0.9"/>
<text transform="translate(28.4 42.4) scale(1 1.12)" font-size="8.3" text-anchor="end" fill="#222" font-weight="normal" stroke="#222" stroke-width="0.24">2</text>
<line x1="32.5" y1="21.8" x2="35" y2="21.8" stroke="#222" stroke-width="0.9"/>
<line x1="232.9" y1="21.8" x2="230.4" y2="21.8" stroke="#222" stroke-width="0.9"/>
<text transform="translate(28.4 25.5) scale(1 1.12)" font-size="8.3" text-anchor="end" fill="#222" font-weight="normal" stroke="#222" stroke-width="0.24">2.5</text>
<line x1="32.5" y1="4.9" x2="35" y2="4.9" stroke="#222" stroke-width="0.9"/>
<line x1="232.9" y1="4.9" x2="230.4" y2="4.9" stroke="#222" stroke-width="0.9"/>
<text transform="translate(28.4 8.6) scale(1 1.12)" font-size="8.3" text-anchor="end" fill="#222" font-weight="normal" stroke="#222" stroke-width="0.24">3</text>
<text transform="translate(34 118.6) scale(0.97 1.15)" font-size="8.2" text-anchor="middle" fill="#222" font-weight="normal" stroke="#222" stroke-width="0.24">10</text>
<text transform="translate(72.1 118.6) scale(0.97 1.15)" font-size="8.2" text-anchor="middle" fill="#222" font-weight="normal" stroke="#222" stroke-width="0.24">20</text>
<text transform="translate(110.2 118.6) scale(0.97 1.15)" font-size="8.2" text-anchor="middle" fill="#222" font-weight="normal" stroke="#222" stroke-width="0.24">30</text>
<text transform="translate(148.3 118.6) scale(0.97 1.15)" font-size="8.2" text-anchor="middle" fill="#222" font-weight="normal" stroke="#222" stroke-width="0.24">40</text>
<text transform="translate(186.4 118.6) scale(0.97 1.15)" font-size="8.2" text-anchor="middle" fill="#222" font-weight="normal" stroke="#222" stroke-width="0.24">50</text>
<text transform="translate(224.5 118.6) scale(0.97 1.15)" font-size="8.2" text-anchor="middle" fill="#222" font-weight="normal" stroke="#222" stroke-width="0.24">60</text>
<text transform="translate(117.5 131.3) scale(1 1.1)" font-size="8.4" text-anchor="start" fill="#222" font-weight="normal" stroke="#222" stroke-width="0.24">2<tspan font-style="italic" font-family="Liberation Serif">θ</tspan> (deg)</text>
<text transform="translate(7.8 54.7) rotate(-90)" font-size="8.6" text-anchor="middle" fill="#222" font-weight="normal" stroke="#222" stroke-width="0.24">Intensity (a.u.)</text>
<text transform="translate(80.1 80) rotate(-90) scale(0.9 1)" font-size="5.9" text-anchor="middle" fill="#1a1a1a" font-weight="normal" stroke="#1a1a1a" stroke-width="0.22">008</text>
<text transform="translate(90.6 96.6) rotate(-90) scale(0.9 1)" font-size="5.9" text-anchor="middle" fill="#1a1a1a" font-weight="normal" stroke="#1a1a1a" stroke-width="0.22">113</text>
<text transform="translate(101.65 92.8) rotate(-90) scale(0.9 1)" font-size="5.9" text-anchor="middle" fill="#1a1a1a" font-weight="normal" stroke="#1a1a1a" stroke-width="0.22">115</text>
<text transform="translate(103.2 78.2) rotate(-90) scale(1.05 1)" font-size="5.9" text-anchor="middle" fill="#1a1a1a" font-weight="normal" stroke="#1a1a1a" stroke-width="0.22">0010</text>
<text transform="translate(115.1 93.4) rotate(-90) scale(0.9 1)" font-size="5.9" text-anchor="middle" fill="#1a1a1a" font-weight="normal" stroke="#1a1a1a" stroke-width="0.22">117</text>
<text transform="translate(122.65 94.8) rotate(-90) scale(0.9 1)" font-size="5.9" text-anchor="middle" fill="#1a1a1a" font-weight="normal" stroke="#1a1a1a" stroke-width="0.22">020</text>
<text transform="translate(125.6 80.6) rotate(-90) scale(1.05 1)" font-size="5.9" text-anchor="middle" fill="#1a1a1a" font-weight="normal" stroke="#1a1a1a" stroke-width="0.22">0012</text>
<text transform="translate(135.5 97.8) rotate(-90) scale(0.9 1)" font-size="5.9" text-anchor="middle" fill="#1a1a1a" font-weight="normal" stroke="#1a1a1a" stroke-width="0.22">119</text>
<text transform="translate(139.9 97.8) rotate(-90) scale(0.9 1)" font-size="5.9" text-anchor="middle" fill="#1a1a1a" font-weight="normal" stroke="#1a1a1a" stroke-width="0.22">026</text>
<text transform="translate(163.2 95.3) rotate(-90) scale(0.9 1)" font-size="5.9" text-anchor="middle" fill="#1a1a1a" font-weight="normal" stroke="#1a1a1a" stroke-width="0.22">0210</text>
<text transform="translate(167.5 95.3) rotate(-90) scale(0.9 1)" font-size="5.9" text-anchor="middle" fill="#1a1a1a" font-weight="normal" stroke="#1a1a1a" stroke-width="0.22">1113</text>
<text transform="translate(173.4 95.3) rotate(-90) scale(0.9 1)" font-size="5.9" text-anchor="middle" fill="#1a1a1a" font-weight="normal" stroke="#1a1a1a" stroke-width="0.22">0018</text>
<text transform="translate(177.7 95.3) rotate(-90) scale(0.9 1)" font-size="5.9" text-anchor="middle" fill="#1a1a1a" font-weight="normal" stroke="#1a1a1a" stroke-width="0.22">2016</text>
<text transform="translate(184.2 95.3) rotate(-90) scale(0.9 1)" font-size="5.9" text-anchor="middle" fill="#1a1a1a" font-weight="normal" stroke="#1a1a1a" stroke-width="0.22">0213</text>
<text transform="translate(188.7 95.3) rotate(-90) scale(0.9 1)" font-size="5.9" text-anchor="middle" fill="#1a1a1a" font-weight="normal" stroke="#1a1a1a" stroke-width="0.22">1115</text>
<text transform="translate(226.9 93.3) rotate(-90) scale(0.9 1)" font-size="5.9" text-anchor="middle" fill="#1a1a1a" font-weight="normal" stroke="#1a1a1a" stroke-width="0.22">0020</text>
<text transform="translate(170.8 84) scale(1 1.08)" font-size="8.4" text-anchor="start" fill="#222" font-weight="normal" stroke="#222" stroke-width="0.24"><tspan font-style="italic">x</tspan> = 0</text>
<text transform="translate(169.8 17.8) scale(1 1.08)" font-size="8.4" text-anchor="start" fill="#dd2a2e" font-weight="normal" stroke="#dd2a2e" stroke-width="0.24"><tspan font-style="italic">x</tspan> = 0.6</text>
<text transform="translate(169.9 56.8) scale(1 1.08)" font-size="8.4" text-anchor="start" fill="#3434d4" font-weight="normal" stroke="#3434d4" stroke-width="0.24"><tspan font-style="italic">x</tspan> = 0.4</text>
<text transform="translate(244.4 11.2) scale(0.93 1)" font-size="9.5" text-anchor="start" fill="#111" font-weight="bold" stroke="#111" stroke-width="0.24">C</text>
<line x1="274.2" y1="18.3" x2="356.3" y2="18.3" stroke="#b0b0b0" stroke-width="0.6" stroke-dasharray="1.2 1"/>
<path d="M274.6 93.5 L274.79 92.44 L275.04 91 L275.33 89.28 L275.66 87.39 L276.02 85.41 L276.4 83.46 L276.8 81.62 L277.2 80 L277.61 78.53 L278.02 77.11 L278.46 75.73 L278.91 74.4 L279.39 73.14 L279.9 71.94 L280.43 70.83 L281 69.8 L281.61 68.89 L282.26 68.1 L282.94 67.41 L283.65 66.78 L284.38 66.19 L285.12 65.59 L285.86 64.97 L286.6 64.3 L287.35 63.61 L288.11 62.95 L288.88 62.29 L289.66 61.62 L290.45 60.92 L291.24 60.17 L292.02 59.33 L292.8 58.4 L293.57 57.35 L294.35 56.2 L295.12 54.97 L295.9 53.69 L296.68 52.37 L297.45 51.05 L298.23 49.76 L299 48.5 L299.77 47.27 L300.52 46.03 L301.27 44.78 L302.02 43.54 L302.78 42.32 L303.56 41.11 L304.36 39.94 L305.2 38.8 L306.08 37.69 L306.99 36.58 L307.92 35.5 L308.88 34.44 L309.84 33.42 L310.8 32.43 L311.76 31.49 L312.7 30.6 L313.63 29.76 L314.56 28.96 L315.48 28.2 L316.41 27.49 L317.33 26.81 L318.25 26.17 L319.18 25.57 L320.1 25 L321.02 24.47 L321.95 23.97 L322.87 23.52 L323.79 23.1 L324.72 22.72 L325.64 22.38 L326.57 22.07 L327.5 21.8 L328.48 21.58 L329.54 21.41 L330.63 21.29 L331.71 21.2 L332.73 21.14 L333.65 21.09 L334.42 21.05 L335 21" fill="none" stroke="#8f8f8f" stroke-width="0.8" stroke-linejoin="round"/>
<path d="M274.2 21.5 L277.05 21.5 L281.03 21.5 L285.72 21.51 L290.73 21.51 L295.62 21.51 L300 21.5 L304.01 21.5 L308.02 21.5 L311.93 21.49 L315.62 21.48 L319.01 21.45 L322 21.4 L324.46 21.33 L326.44 21.25 L328.12 21.15 L329.67 21.03 L331.24 20.88 L333 20.7 L335.03 20.46 L337.22 20.17 L339.44 19.85 L341.56 19.53 L343.45 19.24 L345 19 L346.09 18.82 L346.8 18.67 L347.29 18.54 L347.72 18.44 L348.23 18.36 L349 18.3 L350.11 18.26 L351.46 18.25 L352.9 18.26 L354.29 18.27 L355.47 18.29 L356.3 18.3" fill="none" stroke="#505050" stroke-width="1.4" stroke-linejoin="round"/>
<rect x="274.2" y="14.6" width="82.1" height="81.7" fill="none" stroke="#6a6a6a" stroke-width="0.95"/>
<line x1="274.2" y1="96.3" x2="274.2" y2="94.5" stroke="#555" stroke-width="0.7"/>
<line x1="274.2" y1="14.6" x2="274.2" y2="16.4" stroke="#555" stroke-width="0.7"/>
<line x1="284.46" y1="96.3" x2="284.46" y2="94.5" stroke="#555" stroke-width="0.7"/>
<line x1="284.46" y1="14.6" x2="284.46" y2="16.4" stroke="#555" stroke-width="0.7"/>
<line x1="294.73" y1="96.3" x2="294.73" y2="94.5" stroke="#555" stroke-width="0.7"/>
<line x1="294.73" y1="14.6" x2="294.73" y2="16.4" stroke="#555" stroke-width="0.7"/>
<line x1="304.99" y1="96.3" x2="304.99" y2="94.5" stroke="#555" stroke-width="0.7"/>
<line x1="304.99" y1="14.6" x2="304.99" y2="16.4" stroke="#555" stroke-width="0.7"/>
<line x1="315.25" y1="96.3" x2="315.25" y2="94.5" stroke="#555" stroke-width="0.7"/>
<line x1="315.25" y1="14.6" x2="315.25" y2="16.4" stroke="#555" stroke-width="0.7"/>
<line x1="325.51" y1="96.3" x2="325.51" y2="94.5" stroke="#555" stroke-width="0.7"/>
<line x1="325.51" y1="14.6" x2="325.51" y2="16.4" stroke="#555" stroke-width="0.7"/>
<line x1="335.78" y1="96.3" x2="335.78" y2="94.5" stroke="#555" stroke-width="0.7"/>
<line x1="335.78" y1="14.6" x2="335.78" y2="16.4" stroke="#555" stroke-width="0.7"/>
<line x1="346.04" y1="96.3" x2="346.04" y2="94.5" stroke="#555" stroke-width="0.7"/>
<line x1="346.04" y1="14.6" x2="346.04" y2="16.4" stroke="#555" stroke-width="0.7"/>
<line x1="356.3" y1="96.3" x2="356.3" y2="94.5" stroke="#555" stroke-width="0.7"/>
<line x1="356.3" y1="14.6" x2="356.3" y2="16.4" stroke="#555" stroke-width="0.7"/>
<line x1="274.2" y1="18.9" x2="276" y2="18.9" stroke="#555" stroke-width="0.7"/>
<line x1="356.3" y1="18.9" x2="354.5" y2="18.9" stroke="#555" stroke-width="0.7"/>
<text transform="translate(271.4 21.3) scale(1 1.1)" font-size="8.6" text-anchor="end" fill="#222" font-weight="normal" stroke="#222" stroke-width="0.24">0</text>
<line x1="274.2" y1="33.92" x2="276" y2="33.92" stroke="#555" stroke-width="0.7"/>
<line x1="356.3" y1="33.92" x2="354.5" y2="33.92" stroke="#555" stroke-width="0.7"/>
<text transform="translate(271.4 36.32) scale(1 1.1)" font-size="8.6" text-anchor="end" fill="#222" font-weight="normal" stroke="#222" stroke-width="0.24">-5</text>
<line x1="274.2" y1="48.94" x2="276" y2="48.94" stroke="#555" stroke-width="0.7"/>
<line x1="356.3" y1="48.94" x2="354.5" y2="48.94" stroke="#555" stroke-width="0.7"/>
<text transform="translate(271.4 51.34) scale(1 1.1)" font-size="8.6" text-anchor="end" fill="#222" font-weight="normal" stroke="#222" stroke-width="0.24">-10</text>
<line x1="274.2" y1="63.96" x2="276" y2="63.96" stroke="#555" stroke-width="0.7"/>
<line x1="356.3" y1="63.96" x2="354.5" y2="63.96" stroke="#555" stroke-width="0.7"/>
<text transform="translate(271.4 66.36) scale(1 1.1)" font-size="8.6" text-anchor="end" fill="#222" font-weight="normal" stroke="#222" stroke-width="0.24">-15</text>
<line x1="274.2" y1="78.98" x2="276" y2="78.98" stroke="#555" stroke-width="0.7"/>
<line x1="356.3" y1="78.98" x2="354.5" y2="78.98" stroke="#555" stroke-width="0.7"/>
<text transform="translate(271.4 81.38) scale(1 1.1)" font-size="8.6" text-anchor="end" fill="#222" font-weight="normal" stroke="#222" stroke-width="0.24">-20</text>
<line x1="274.2" y1="94" x2="276" y2="94" stroke="#555" stroke-width="0.7"/>
<line x1="356.3" y1="94" x2="354.5" y2="94" stroke="#555" stroke-width="0.7"/>
<text transform="translate(271.4 96.4) scale(1 1.1)" font-size="8.6" text-anchor="end" fill="#222" font-weight="normal" stroke="#222" stroke-width="0.24">-25</text>
<text transform="translate(273.3 107.4) scale(0.9 1.12)" font-size="9.2" text-anchor="middle" fill="#222" font-weight="normal" stroke="#222" stroke-width="0.24">20</text>
<text transform="translate(283.56 107.4) scale(0.9 1.12)" font-size="9.2" text-anchor="middle" fill="#222" font-weight="normal" stroke="#222" stroke-width="0.24">30</text>
<text transform="translate(293.83 107.4) scale(0.9 1.12)" font-size="9.2" text-anchor="middle" fill="#222" font-weight="normal" stroke="#222" stroke-width="0.24">40</text>
<text transform="translate(304.09 107.4) scale(0.9 1.12)" font-size="9.2" text-anchor="middle" fill="#222" font-weight="normal" stroke="#222" stroke-width="0.24">50</text>
<text transform="translate(314.35 107.4) scale(0.9 1.12)" font-size="9.2" text-anchor="middle" fill="#222" font-weight="normal" stroke="#222" stroke-width="0.24">60</text>
<text transform="translate(324.61 107.4) scale(0.9 1.12)" font-size="9.2" text-anchor="middle" fill="#222" font-weight="normal" stroke="#222" stroke-width="0.24">70</text>
<text transform="translate(334.88 107.4) scale(0.9 1.12)" font-size="9.2" text-anchor="middle" fill="#222" font-weight="normal" stroke="#222" stroke-width="0.24">80</text>
<text transform="translate(345.14 107.4) scale(0.9 1.12)" font-size="9.2" text-anchor="middle" fill="#222" font-weight="normal" stroke="#222" stroke-width="0.24">90</text>
<text transform="translate(355.4 107.4) scale(0.9 1.12)" font-size="9.2" text-anchor="middle" fill="#222" font-weight="normal" stroke="#222" stroke-width="0.24">100</text>
<text transform="translate(313.65 119) scale(1 1.12)" font-size="8.4" text-anchor="middle" fill="#222" font-weight="normal" stroke="#222" stroke-width="0.24">Temperature (K)</text>
<text transform="translate(252.9 54) rotate(-90)" font-size="8.5" text-anchor="middle" fill="#222" font-weight="normal" stroke="#222" stroke-width="0.1">Moment (emu/g)</text>
<text transform="translate(282.4 30.9) scale(1 1.08)" font-size="8.5" text-anchor="start" fill="#222" font-weight="normal" stroke="#222" stroke-width="0.24">FC</text>
<text transform="translate(289 75) scale(1 1.08)" font-size="8.5" text-anchor="start" fill="#222" font-weight="normal" stroke="#222" stroke-width="0.24">ZFC</text>
<text transform="translate(326.7 89.6) scale(1 1.08)" font-size="8.5" text-anchor="start" fill="#222" font-weight="normal" stroke="#222" stroke-width="0.24"><tspan font-style="italic">x</tspan> = 0</text>
<text transform="translate(319.6 37) scale(1 1.08)" font-size="8.4" text-anchor="start" fill="#222" font-weight="normal" stroke="#222" stroke-width="0.24"><tspan font-style="italic">T</tspan><tspan font-size="5.6" dy="1.6">c</tspan><tspan dy="-1.6"> = 93K</tspan></text>
<line x1="342.2" y1="29.3" x2="348.9" y2="19.6" stroke="#222" stroke-width="0.8"/>
<path d="M348.9 19.6 L346.24 21.17 L348.38 22.64 Z" fill="#222"/>
<line x1="394.1" y1="22.3" x2="475.4" y2="22.3" stroke="#b0b0b0" stroke-width="0.6" stroke-dasharray="1.2 1"/>
<path d="M394.7 95.6 L395.05 94.25 L395.52 92.44 L396.08 90.28 L396.71 87.89 L397.37 85.39 L398.04 82.88 L398.69 80.48 L399.3 78.3 L399.88 76.29 L400.44 74.32 L401.01 72.38 L401.57 70.48 L402.15 68.6 L402.75 66.77 L403.36 64.97 L404 63.2 L404.67 61.45 L405.37 59.71 L406.09 57.99 L406.82 56.31 L407.57 54.69 L408.32 53.14 L409.06 51.67 L409.8 50.3 L410.53 49.05 L411.24 47.91 L411.96 46.86 L412.68 45.88 L413.4 44.95 L414.15 44.04 L414.91 43.13 L415.7 42.2 L416.53 41.26 L417.4 40.32 L418.3 39.39 L419.21 38.49 L420.11 37.61 L421.01 36.76 L421.87 35.96 L422.7 35.2 L423.48 34.49 L424.23 33.82 L424.96 33.19 L425.67 32.59 L426.38 32.03 L427.08 31.49 L427.78 30.99 L428.5 30.5 L429.22 30.05 L429.93 29.65 L430.64 29.28 L431.34 28.93 L432.06 28.6 L432.79 28.28 L433.53 27.95 L434.3 27.6 L435.09 27.24 L435.9 26.89 L436.73 26.53 L437.58 26.18 L438.43 25.82 L439.28 25.48 L440.14 25.13 L441 24.8 L441.91 24.46 L442.89 24.1 L443.91 23.73 L444.92 23.38 L445.87 23.04 L446.74 22.74 L447.46 22.49 L448 22.3" fill="none" stroke="#3838d6" stroke-width="1.45" stroke-linejoin="round" stroke-dasharray="1.3 1.1"/>
<path d="M394.1 31 L394.71 31 L395.53 31 L396.51 31 L397.61 31 L398.79 31 L400 31 L401.25 31.02 L402.59 31.06 L403.99 31.11 L405.48 31.13 L407.05 31.1 L408.7 31 L410.46 30.83 L412.35 30.6 L414.31 30.33 L416.32 30.01 L418.33 29.67 L420.3 29.3 L422.25 28.9 L424.2 28.46 L426.15 27.98 L428.1 27.49 L430.05 26.99 L432 26.5 L434.01 25.99 L436.1 25.45 L438.19 24.9 L440.2 24.37 L442.03 23.9 L443.6 23.5 L444.62 23.18 L445.08 22.92 L445.38 22.71 L445.87 22.54 L446.96 22.41 L449 22.3 L452.49 22.23 L457.22 22.21 L462.54 22.23 L467.78 22.26 L472.28 22.29 L475.4 22.3" fill="none" stroke="#3838d6" stroke-width="1.2" stroke-linejoin="round"/>
<rect x="394.1" y="14.9" width="81.3" height="81.3" fill="none" stroke="#6a6a6a" stroke-width="0.95"/>
<line x1="394.1" y1="96.2" x2="394.1" y2="94.4" stroke="#555" stroke-width="0.7"/>
<line x1="394.1" y1="14.9" x2="394.1" y2="16.7" stroke="#555" stroke-width="0.7"/>
<line x1="404.26" y1="96.2" x2="404.26" y2="94.4" stroke="#555" stroke-width="0.7"/>
<line x1="404.26" y1="14.9" x2="404.26" y2="16.7" stroke="#555" stroke-width="0.7"/>
<line x1="414.43" y1="96.2" x2="414.43" y2="94.4" stroke="#555" stroke-width="0.7"/>
<line x1="414.43" y1="14.9" x2="414.43" y2="16.7" stroke="#555" stroke-width="0.7"/>
<line x1="424.59" y1="96.2" x2="424.59" y2="94.4" stroke="#555" stroke-width="0.7"/>
<line x1="424.59" y1="14.9" x2="424.59" y2="16.7" stroke="#555" stroke-width="0.7"/>
<line x1="434.75" y1="96.2" x2="434.75" y2="94.4" stroke="#555" stroke-width="0.7"/>
<line x1="434.75" y1="14.9" x2="434.75" y2="16.7" stroke="#555" stroke-width="0.7"/>
<line x1="444.91" y1="96.2" x2="444.91" y2="94.4" stroke="#555" stroke-width="0.7"/>
<line x1="444.91" y1="14.9" x2="444.91" y2="16.7" stroke="#555" stroke-width="0.7"/>
<line x1="455.07" y1="96.2" x2="455.07" y2="94.4" stroke="#555" stroke-width="0.7"/>
<line x1="455.07" y1="14.9" x2="455.07" y2="16.7" stroke="#555" stroke-width="0.7"/>
<line x1="465.24" y1="96.2" x2="465.24" y2="94.4" stroke="#555" stroke-width="0.7"/>
<line x1="465.24" y1="14.9" x2="465.24" y2="16.7" stroke="#555" stroke-width="0.7"/>
<line x1="475.4" y1="96.2" x2="475.4" y2="94.4" stroke="#555" stroke-width="0.7"/>
<line x1="475.4" y1="14.9" x2="475.4" y2="16.7" stroke="#555" stroke-width="0.7"/>
<line x1="394.1" y1="22.3" x2="395.9" y2="22.3" stroke="#555" stroke-width="0.7"/>
<line x1="475.4" y1="22.3" x2="473.6" y2="22.3" stroke="#555" stroke-width="0.7"/>
<text transform="translate(391.3 25.7) scale(1 1.1)" font-size="8.6" text-anchor="end" fill="#222" font-weight="normal" stroke="#222" stroke-width="0.24">0</text>
<line x1="394.1" y1="36.86" x2="395.9" y2="36.86" stroke="#555" stroke-width="0.7"/>
<line x1="475.4" y1="36.86" x2="473.6" y2="36.86" stroke="#555" stroke-width="0.7"/>
<text transform="translate(391.3 40.26) scale(1 1.1)" font-size="8.6" text-anchor="end" fill="#222" font-weight="normal" stroke="#222" stroke-width="0.24">-0.2</text>
<line x1="394.1" y1="51.42" x2="395.9" y2="51.42" stroke="#555" stroke-width="0.7"/>
<line x1="475.4" y1="51.42" x2="473.6" y2="51.42" stroke="#555" stroke-width="0.7"/>
<text transform="translate(391.3 54.82) scale(1 1.1)" font-size="8.6" text-anchor="end" fill="#222" font-weight="normal" stroke="#222" stroke-width="0.24">-0.4</text>
<line x1="394.1" y1="65.98" x2="395.9" y2="65.98" stroke="#555" stroke-width="0.7"/>
<line x1="475.4" y1="65.98" x2="473.6" y2="65.98" stroke="#555" stroke-width="0.7"/>
<text transform="translate(391.3 69.38) scale(1 1.1)" font-size="8.6" text-anchor="end" fill="#222" font-weight="normal" stroke="#222" stroke-width="0.24">-0.6</text>
<line x1="394.1" y1="80.54" x2="395.9" y2="80.54" stroke="#555" stroke-width="0.7"/>
<line x1="475.4" y1="80.54" x2="473.6" y2="80.54" stroke="#555" stroke-width="0.7"/>
<text transform="translate(391.3 83.94) scale(1 1.1)" font-size="8.6" text-anchor="end" fill="#222" font-weight="normal" stroke="#222" stroke-width="0.24">-0.8</text>
<line x1="394.1" y1="95.1" x2="395.9" y2="95.1" stroke="#555" stroke-width="0.7"/>
<line x1="475.4" y1="95.1" x2="473.6" y2="95.1" stroke="#555" stroke-width="0.7"/>
<text transform="translate(391.3 98.5) scale(1 1.1)" font-size="8.6" text-anchor="end" fill="#222" font-weight="normal" stroke="#222" stroke-width="0.24">-1</text>
<text transform="translate(393.2 107.4) scale(0.9 1.12)" font-size="9.2" text-anchor="middle" fill="#222" font-weight="normal" stroke="#222" stroke-width="0.24">20</text>
<text transform="translate(403.36 107.4) scale(0.9 1.12)" font-size="9.2" text-anchor="middle" fill="#222" font-weight="normal" stroke="#222" stroke-width="0.24">30</text>
<text transform="translate(413.53 107.4) scale(0.9 1.12)" font-size="9.2" text-anchor="middle" fill="#222" font-weight="normal" stroke="#222" stroke-width="0.24">40</text>
<text transform="translate(423.69 107.4) scale(0.9 1.12)" font-size="9.2" text-anchor="middle" fill="#222" font-weight="normal" stroke="#222" stroke-width="0.24">50</text>
<text transform="translate(433.85 107.4) scale(0.9 1.12)" font-size="9.2" text-anchor="middle" fill="#222" font-weight="normal" stroke="#222" stroke-width="0.24">60</text>
<text transform="translate(444.01 107.4) scale(0.9 1.12)" font-size="9.2" text-anchor="middle" fill="#222" font-weight="normal" stroke="#222" stroke-width="0.24">70</text>
<text transform="translate(454.18 107.4) scale(0.9 1.12)" font-size="9.2" text-anchor="middle" fill="#222" font-weight="normal" stroke="#222" stroke-width="0.24">80</text>
<text transform="translate(464.34 107.4) scale(0.9 1.12)" font-size="9.2" text-anchor="middle" fill="#222" font-weight="normal" stroke="#222" stroke-width="0.24">90</text>
<text transform="translate(474.5 107.4) scale(0.9 1.12)" font-size="9.2" text-anchor="middle" fill="#222" font-weight="normal" stroke="#222" stroke-width="0.24">100</text>
<text transform="translate(433.15 119) scale(1 1.12)" font-size="8.4" text-anchor="middle" fill="#222" font-weight="normal" stroke="#222" stroke-width="0.24">Temperature (K)</text>
<text transform="translate(368.2 54) rotate(-90)" font-size="8.5" text-anchor="middle" fill="#222" font-weight="normal" stroke="#222" stroke-width="0.1">Moment (emu/g)</text>
<text transform="translate(397 42.2) scale(1 1.08)" font-size="8.5" text-anchor="start" fill="#3838d6" font-weight="normal" stroke="#3838d6" stroke-width="0.24">FC</text>
<text transform="translate(409.8 76.8) scale(1 1.08)" font-size="8.5" text-anchor="start" fill="#3838d6" font-weight="normal" stroke="#3838d6" stroke-width="0.24">ZFC</text>
<text transform="translate(445.7 90.9) scale(1 1.08)" font-size="8.5" text-anchor="start" fill="#3838d6" font-weight="normal" stroke="#3838d6" stroke-width="0.24"><tspan font-style="italic">x</tspan> = 0.4</text>
<text transform="translate(431.6 43.2) scale(1 1.08)" font-size="8.4" text-anchor="start" fill="#3838d6" font-weight="normal" stroke="#3838d6" stroke-width="0.24"><tspan font-style="italic">T</tspan><tspan font-size="5.6" dy="1.6">c</tspan><tspan dy="-1.6"> = 76K</tspan></text>
<line x1="447.6" y1="34.6" x2="447.6" y2="28" stroke="#3838d6" stroke-width="0.8"/>
<path d="M447.6 28 L446.3 30.8 L448.9 30.8 Z" fill="#3838d6"/>
<line x1="512.2" y1="18" x2="594.6" y2="18" stroke="#b0b0b0" stroke-width="0.6" stroke-dasharray="1.2 1"/>
<path d="M513 95.3 L513.34 94.18 L513.75 92.75 L514.23 91.05 L514.79 89.13 L515.42 87.04 L516.14 84.82 L516.93 82.53 L517.8 80.2 L518.8 77.7 L519.95 74.94 L521.21 71.99 L522.54 68.97 L523.88 65.97 L525.2 63.09 L526.46 60.44 L527.6 58.1 L528.62 56.09 L529.56 54.3 L530.45 52.7 L531.3 51.24 L532.15 49.87 L533.04 48.56 L533.98 47.25 L535 45.9 L536.13 44.53 L537.34 43.17 L538.61 41.85 L539.91 40.57 L541.2 39.33 L542.47 38.15 L543.68 37.04 L544.8 36 L545.82 35.04 L546.77 34.15 L547.66 33.32 L548.52 32.56 L549.38 31.84 L550.24 31.16 L551.14 30.52 L552.1 29.9 L553.1 29.35 L554.13 28.89 L555.18 28.48 L556.24 28.11 L557.33 27.73 L558.44 27.32 L559.56 26.86 L560.7 26.3 L561.9 25.62 L563.19 24.83 L564.52 23.97 L565.86 23.08 L567.16 22.21 L568.39 21.39 L569.52 20.68 L570.5 20.1 L571.35 19.66 L572.1 19.32 L572.77 19.06 L573.36 18.86 L573.88 18.72 L574.32 18.6 L574.69 18.5 L575 18.4" fill="none" stroke="#e02a2e" stroke-width="1.45" stroke-linejoin="round" stroke-dasharray="1.3 1.1"/>
<path d="M512.2 20.2 L514.17 20.2 L516.92 20.2 L520.16 20.21 L523.61 20.21 L526.99 20.21 L530 20.2 L532.68 20.19 L535.27 20.17 L537.78 20.16 L540.23 20.14 L542.63 20.12 L545 20.1 L547.37 20.08 L549.74 20.07 L552.06 20.06 L554.29 20.04 L556.38 20.02 L558.3 20 L560.03 19.98 L561.61 19.97 L563.06 19.96 L564.39 19.93 L565.63 19.88 L566.8 19.8 L567.87 19.67 L568.82 19.51 L569.68 19.32 L570.48 19.13 L571.24 18.95 L572 18.8 L572.57 18.67 L572.88 18.55 L573.16 18.44 L573.63 18.34 L574.5 18.26 L576 18.2 L578.47 18.17 L581.81 18.16 L585.55 18.16 L589.24 18.18 L592.41 18.19 L594.6 18.2" fill="none" stroke="#e02a2e" stroke-width="1.25" stroke-linejoin="round"/>
<rect x="512.2" y="14.7" width="82.4" height="81.3" fill="none" stroke="#6a6a6a" stroke-width="0.95"/>
<line x1="512.2" y1="96" x2="512.2" y2="94.2" stroke="#555" stroke-width="0.7"/>
<line x1="512.2" y1="14.7" x2="512.2" y2="16.5" stroke="#555" stroke-width="0.7"/>
<line x1="522.5" y1="96" x2="522.5" y2="94.2" stroke="#555" stroke-width="0.7"/>
<line x1="522.5" y1="14.7" x2="522.5" y2="16.5" stroke="#555" stroke-width="0.7"/>
<line x1="532.8" y1="96" x2="532.8" y2="94.2" stroke="#555" stroke-width="0.7"/>
<line x1="532.8" y1="14.7" x2="532.8" y2="16.5" stroke="#555" stroke-width="0.7"/>
<line x1="543.1" y1="96" x2="543.1" y2="94.2" stroke="#555" stroke-width="0.7"/>
<line x1="543.1" y1="14.7" x2="543.1" y2="16.5" stroke="#555" stroke-width="0.7"/>
<line x1="553.4" y1="96" x2="553.4" y2="94.2" stroke="#555" stroke-width="0.7"/>
<line x1="553.4" y1="14.7" x2="553.4" y2="16.5" stroke="#555" stroke-width="0.7"/>
<line x1="563.7" y1="96" x2="563.7" y2="94.2" stroke="#555" stroke-width="0.7"/>
<line x1="563.7" y1="14.7" x2="563.7" y2="16.5" stroke="#555" stroke-width="0.7"/>
<line x1="574" y1="96" x2="574" y2="94.2" stroke="#555" stroke-width="0.7"/>
<line x1="574" y1="14.7" x2="574" y2="16.5" stroke="#555" stroke-width="0.7"/>
<line x1="584.3" y1="96" x2="584.3" y2="94.2" stroke="#555" stroke-width="0.7"/>
<line x1="584.3" y1="14.7" x2="584.3" y2="16.5" stroke="#555" stroke-width="0.7"/>
<line x1="594.6" y1="96" x2="594.6" y2="94.2" stroke="#555" stroke-width="0.7"/>
<line x1="594.6" y1="14.7" x2="594.6" y2="16.5" stroke="#555" stroke-width="0.7"/>
<line x1="512.2" y1="18" x2="514" y2="18" stroke="#555" stroke-width="0.7"/>
<line x1="594.6" y1="18" x2="592.8" y2="18" stroke="#555" stroke-width="0.7"/>
<text transform="translate(509.4 21.4) scale(1 1.1)" font-size="8.6" text-anchor="end" fill="#222" font-weight="normal" stroke="#222" stroke-width="0.24">0</text>
<line x1="512.2" y1="33.5" x2="514" y2="33.5" stroke="#555" stroke-width="0.7"/>
<line x1="594.6" y1="33.5" x2="592.8" y2="33.5" stroke="#555" stroke-width="0.7"/>
<text transform="translate(509.4 36.9) scale(1 1.1)" font-size="8.6" text-anchor="end" fill="#222" font-weight="normal" stroke="#222" stroke-width="0.24">-0.5</text>
<line x1="512.2" y1="49" x2="514" y2="49" stroke="#555" stroke-width="0.7"/>
<line x1="594.6" y1="49" x2="592.8" y2="49" stroke="#555" stroke-width="0.7"/>
<text transform="translate(509.4 52.4) scale(1 1.1)" font-size="8.6" text-anchor="end" fill="#222" font-weight="normal" stroke="#222" stroke-width="0.24">-1</text>
<line x1="512.2" y1="64.5" x2="514" y2="64.5" stroke="#555" stroke-width="0.7"/>
<line x1="594.6" y1="64.5" x2="592.8" y2="64.5" stroke="#555" stroke-width="0.7"/>
<text transform="translate(509.4 67.9) scale(1 1.1)" font-size="8.6" text-anchor="end" fill="#222" font-weight="normal" stroke="#222" stroke-width="0.24">-1.5</text>
<line x1="512.2" y1="80" x2="514" y2="80" stroke="#555" stroke-width="0.7"/>
<line x1="594.6" y1="80" x2="592.8" y2="80" stroke="#555" stroke-width="0.7"/>
<text transform="translate(509.4 83.4) scale(1 1.1)" font-size="8.6" text-anchor="end" fill="#222" font-weight="normal" stroke="#222" stroke-width="0.24">-2</text>
<line x1="512.2" y1="95.5" x2="514" y2="95.5" stroke="#555" stroke-width="0.7"/>
<line x1="594.6" y1="95.5" x2="592.8" y2="95.5" stroke="#555" stroke-width="0.7"/>
<text transform="translate(509.4 98.9) scale(1 1.1)" font-size="8.6" text-anchor="end" fill="#222" font-weight="normal" stroke="#222" stroke-width="0.24">-2.5</text>
<text transform="translate(511.3 107.4) scale(0.9 1.12)" font-size="9.2" text-anchor="middle" fill="#222" font-weight="normal" stroke="#222" stroke-width="0.24">20</text>
<text transform="translate(521.6 107.4) scale(0.9 1.12)" font-size="9.2" text-anchor="middle" fill="#222" font-weight="normal" stroke="#222" stroke-width="0.24">30</text>
<text transform="translate(531.9 107.4) scale(0.9 1.12)" font-size="9.2" text-anchor="middle" fill="#222" font-weight="normal" stroke="#222" stroke-width="0.24">40</text>
<text transform="translate(542.2 107.4) scale(0.9 1.12)" font-size="9.2" text-anchor="middle" fill="#222" font-weight="normal" stroke="#222" stroke-width="0.24">50</text>
<text transform="translate(552.5 107.4) scale(0.9 1.12)" font-size="9.2" text-anchor="middle" fill="#222" font-weight="normal" stroke="#222" stroke-width="0.24">60</text>
<text transform="translate(562.8 107.4) scale(0.9 1.12)" font-size="9.2" text-anchor="middle" fill="#222" font-weight="normal" stroke="#222" stroke-width="0.24">70</text>
<text transform="translate(573.1 107.4) scale(0.9 1.12)" font-size="9.2" text-anchor="middle" fill="#222" font-weight="normal" stroke="#222" stroke-width="0.24">80</text>
<text transform="translate(583.4 107.4) scale(0.9 1.12)" font-size="9.2" text-anchor="middle" fill="#222" font-weight="normal" stroke="#222" stroke-width="0.24">90</text>
<text transform="translate(593.7 107.4) scale(0.9 1.12)" font-size="9.2" text-anchor="middle" fill="#222" font-weight="normal" stroke="#222" stroke-width="0.24">100</text>
<text transform="translate(551.8 119) scale(1 1.12)" font-size="8.4" text-anchor="middle" fill="#222" font-weight="normal" stroke="#222" stroke-width="0.24">Temperature (K)</text>
<text transform="translate(486.2 54) rotate(-90)" font-size="8.5" text-anchor="middle" fill="#222" font-weight="normal" stroke="#222" stroke-width="0.1">Moment (emu/g)</text>
<text transform="translate(517 31) scale(1 1.08)" font-size="8.5" text-anchor="start" fill="#e02a2e" font-weight="normal" stroke="#e02a2e" stroke-width="0.24">FC</text>
<text transform="translate(531.5 76.8) scale(1 1.08)" font-size="8.5" text-anchor="start" fill="#e02a2e" font-weight="normal" stroke="#e02a2e" stroke-width="0.24">ZFC</text>
<text transform="translate(564.7 90.9) scale(1 1.08)" font-size="8.5" text-anchor="start" fill="#e02a2e" font-weight="normal" stroke="#e02a2e" stroke-width="0.24"><tspan font-style="italic">x</tspan> = 0.6</text>
<text transform="translate(557.6 38.4) scale(1 1.08)" font-size="8.4" text-anchor="start" fill="#e02a2e" font-weight="normal" stroke="#e02a2e" stroke-width="0.24"><tspan font-style="italic">T</tspan><tspan font-size="5.6" dy="1.6">c</tspan><tspan dy="-1.6"> = 84K</tspan></text>
<line x1="572.2" y1="29.4" x2="572.2" y2="23" stroke="#e02a2e" stroke-width="0.8"/>
<path d="M572.2 23 L570.9 25.8 L573.5 25.8 Z" fill="#e02a2e"/>
<text transform="translate(1.2 144.7) scale(0.9 1)" font-size="9.0" text-anchor="start" fill="#111" font-weight="bold" stroke="#111" stroke-width="0.24">B</text>
<path d="M54.4 199.64 L55.1 199.66 L55.8 199.95 L56.5 199.98 L57.2 199.73 L57.9 200.98 L58.6 200.5 L59.3 200.26 L60 201.33 L60.7 200.28 L61.4 200.66 L62.1 201.75 L62.8 200.54 L63.5 201.16 L64.2 201.89 L64.9 201.84 L65.6 200.62 L66.3 200.83 L67 201.19 L67.7 199.81 L68.4 199.53 L69.1 197.19 L69.8 197.85 L70.5 196.42 L71.2 195.31 L71.9 195.15 L72.6 194.06 L73.3 194.64 L74 193.47 L74.7 194.37 L75.4 193.69 L76.1 193.28 L76.8 193.13 L77.5 193.89 L78.2 193.31 L78.9 194.61 L79.6 193.31 L80.3 193.98 L81 193.88 L81.7 193.2 L82.4 193.91 L83.1 193.12 L83.8 193.69 L84.5 193.82 L85.2 193.87 L85.9 194.67 L86.6 194.86 L87.3 195.77 L88 197.69 L88.7 197.36 L89.4 198.63 L90.1 198.34 L90.8 199.85 L91.5 200.12 L92.2 200.87 L92.9 200.88 L93.6 200.68 L94.3 201.21 L95 201.05 L95.7 200.81 L96.4 201.75 L97.1 200.79 L97.8 200.78 L98.5 201.39 L99.2 200.79 L99.9 200.55 L100.6 199.97 L101.3 197.98 L102 197.37 L102.7 195.87 L103.4 195.84 L104.1 194.48 L104.8 192.54 L105.5 191.28 L106.2 190.43 L106.9 189.26 L107.6 187.23 L108.3 187.06 L109 184.87 L109.7 183.97 L110.4 181.6 L111.1 179.71 L111.8 178.89 L112.5 175.56 L113.2 172.1 L113.9 167.49 L114.6 164.7 L115.3 163.18 L116 162.83 L116.7 163.77 L117.4 165.38 L118.1 166.87 L118.8 169.82 L119.5 173.08 L120.2 175.02 L120.9 179.7 L121.6 183.5 L122.3 188.1 L123 190.82 L123.7 193.53 L124.4 195.63 L125.1 196.07 L125.8 196.05 L126.5 197.92 L127.2 198.11 L127.9 197.52 L128.6 197.31 L129.3 198.94 L130 198.63 L130.7 197.72 L131.4 198.15 L132.1 197.97 L132.8 199.24 L133.5 198.23 L134.2 199.52 L134.9 199.25 L135.6 198.08 L136.3 199.2 L137 198.68 L137.7 199.36 L138.4 199.53 L139.1 198.57 L139.8 198.23 L140.5 199.78 L141.2 198.83 L141.9 199.73 L142.6 199.29 L143.3 199.35 L144 199.5" fill="none" stroke="#333333" stroke-width="1.0" stroke-linejoin="round"/>
<path d="M54.4 254.33 L55.1 254.22 L55.8 253.72 L56.5 255.11 L57.2 254.85 L57.9 255.21 L58.6 256.16 L59.3 254.89 L60 256.19 L60.7 255.03 L61.4 256.28 L62.1 256.46 L62.8 255.36 L63.5 255.62 L64.2 255.99 L64.9 254.89 L65.6 254.13 L66.3 252.97 L67 252.01 L67.7 251.99 L68.4 251.51 L69.1 250.51 L69.8 250.07 L70.5 249.12 L71.2 249.53 L71.9 248.9 L72.6 247.63 L73.3 247.2 L74 247.29 L74.7 246.79 L75.4 247.35 L76.1 246.04 L76.8 245.74 L77.5 246.66 L78.2 245.24 L78.9 245.97 L79.6 245.57 L80.3 246.48 L81 246.06 L81.7 246.53 L82.4 245.58 L83.1 246.61 L83.8 246.65 L84.5 246.58 L85.2 247.35 L85.9 247.73 L86.6 246.76 L87.3 247.46 L88 248.01 L88.7 248.19 L89.4 248.4 L90.1 249.26 L90.8 249.59 L91.5 251.05 L92.2 251.18 L92.9 251.17 L93.6 252.13 L94.3 252.94 L95 253.23 L95.7 253.27 L96.4 253.33 L97.1 253.29 L97.8 255.02 L98.5 254.35 L99.2 252.67 L99.9 253.08 L100.6 252.59 L101.3 250.67 L102 248.44 L102.7 247.55 L103.4 245.77 L104.1 243.56 L104.8 242.39 L105.5 239.63 L106.2 239.49 L106.9 237.17 L107.6 235.25 L108.3 233.87 L109 231.42 L109.7 228.78 L110.4 226.91 L111.1 224.96 L111.8 223.04 L112.5 222.55 L113.2 220.87 L113.9 218.36 L114.6 217.13 L115.3 217.65 L116 218.56 L116.7 219.93 L117.4 220.4 L118.1 223.8 L118.8 226.45 L119.5 229.15 L120.2 232.05 L120.9 235.84 L121.6 241.05 L122.3 243.82 L123 247 L123.7 249.54 L124.4 251.03 L125.1 253.15 L125.8 252.75 L126.5 252.72 L127.2 253.88 L127.9 254.15 L128.6 254.64 L129.3 254.54 L130 254.99 L130.7 255.08 L131.4 254.29 L132.1 254.29 L132.8 253.66 L133.5 253.88 L134.2 254.35 L134.9 253.41 L135.6 254.45 L136.3 253.45 L137 253.89 L137.7 254.77 L138.4 253.12 L139.1 252.96 L139.8 253.61 L140.5 253.09 L141.2 253.97 L141.9 252.6 L142.6 254.03 L143.3 253.99 L144 253.81" fill="none" stroke="#4848d0" stroke-width="1.0" stroke-linejoin="round"/>
<path d="M54.4 309.37 L55.1 309.15 L55.8 309.9 L56.5 309.7 L57.2 309.6 L57.9 309.52 L58.6 309.76 L59.3 310.23 L60 310.58 L60.7 310.76 L61.4 309.47 L62.1 309.74 L62.8 310.02 L63.5 310.23 L64.2 309.82 L64.9 309.5 L65.6 309.18 L66.3 309.41 L67 309.34 L67.7 309.74 L68.4 308.79 L69.1 307.6 L69.8 306.76 L70.5 305.79 L71.2 304.13 L71.9 303.36 L72.6 300.85 L73.3 300.83 L74 299.62 L74.7 298.06 L75.4 297.68 L76.1 297.69 L76.8 296.41 L77.5 296.53 L78.2 295.93 L78.9 296.19 L79.6 297.47 L80.3 296.26 L81 296.86 L81.7 297.98 L82.4 297.77 L83.1 297.32 L83.8 298.57 L84.5 298.29 L85.2 298.95 L85.9 298.98 L86.6 299.58 L87.3 300.13 L88 300.47 L88.7 300.84 L89.4 302.06 L90.1 304.54 L90.8 305.09 L91.5 305.3 L92.2 307.42 L92.9 306.81 L93.6 306.78 L94.3 307.73 L95 307.31 L95.7 307.75 L96.4 307.79 L97.1 307.05 L97.8 307.43 L98.5 306.26 L99.2 306.53 L99.9 306.06 L100.6 304.34 L101.3 303.92 L102 302.1 L102.7 301.3 L103.4 300.38 L104.1 297.96 L104.8 296.26 L105.5 294.18 L106.2 290.53 L106.9 289.32 L107.6 285.91 L108.3 281.85 L109 280.3 L109.7 276.9 L110.4 274.31 L111.1 274.14 L111.8 272.34 L112.5 272.28 L113.2 271.24 L113.9 272.75 L114.6 271.9 L115.3 272.84 L116 273.9 L116.7 274.41 L117.4 276.95 L118.1 278.26 L118.8 281.23 L119.5 285.85 L120.2 289.86 L120.9 295.11 L121.6 298.46 L122.3 301.7 L123 303.12 L123.7 305.26 L124.4 306.23 L125.1 305.58 L125.8 306.98 L126.5 306.48 L127.2 307.41 L127.9 307.41 L128.6 307.81 L129.3 306.64 L130 307.18 L130.7 307.86 L131.4 308.26 L132.1 307.84 L132.8 306.61 L133.5 307.59 L134.2 306.64 L134.9 307.41 L135.6 307.81 L136.3 306.51 L137 307.92 L137.7 307.4 L138.4 306.58 L139.1 306.4 L139.8 306.78 L140.5 307.41 L141.2 306.87 L141.9 305.95 L142.6 305.71 L143.3 305.8 L144 306.98" fill="none" stroke="#dc4c4c" stroke-width="1.0" stroke-linejoin="round"/>
<rect x="53.2" y="155" width="91.4" height="54.2" fill="none" stroke="#7a7a7a" stroke-width="1.0"/>
<line x1="53.2" y1="209.2" x2="53.2" y2="207.6" stroke="#666" stroke-width="0.7"/>
<line x1="60.82" y1="209.2" x2="60.82" y2="207.6" stroke="#666" stroke-width="0.7"/>
<line x1="68.43" y1="209.2" x2="68.43" y2="207.6" stroke="#666" stroke-width="0.7"/>
<line x1="76.05" y1="209.2" x2="76.05" y2="207.6" stroke="#666" stroke-width="0.7"/>
<line x1="83.67" y1="209.2" x2="83.67" y2="207.6" stroke="#666" stroke-width="0.7"/>
<line x1="91.28" y1="209.2" x2="91.28" y2="207.6" stroke="#666" stroke-width="0.7"/>
<line x1="98.9" y1="209.2" x2="98.9" y2="207.6" stroke="#666" stroke-width="0.7"/>
<line x1="106.52" y1="209.2" x2="106.52" y2="207.6" stroke="#666" stroke-width="0.7"/>
<line x1="114.13" y1="209.2" x2="114.13" y2="207.6" stroke="#666" stroke-width="0.7"/>
<line x1="121.75" y1="209.2" x2="121.75" y2="207.6" stroke="#666" stroke-width="0.7"/>
<line x1="129.37" y1="209.2" x2="129.37" y2="207.6" stroke="#666" stroke-width="0.7"/>
<line x1="136.98" y1="209.2" x2="136.98" y2="207.6" stroke="#666" stroke-width="0.7"/>
<line x1="144.6" y1="209.2" x2="144.6" y2="207.6" stroke="#666" stroke-width="0.7"/>
<text transform="translate(58.5 165.5)" font-size="8.3" text-anchor="start" fill="#222" font-weight="normal" stroke="#222" stroke-width="0.12"><tspan font-style="italic">x</tspan> = 0</text>
<rect x="53.2" y="209.2" width="91.4" height="54.3" fill="none" stroke="#7a7a7a" stroke-width="1.0"/>
<line x1="53.2" y1="263.5" x2="53.2" y2="261.9" stroke="#666" stroke-width="0.7"/>
<line x1="60.82" y1="263.5" x2="60.82" y2="261.9" stroke="#666" stroke-width="0.7"/>
<line x1="68.43" y1="263.5" x2="68.43" y2="261.9" stroke="#666" stroke-width="0.7"/>
<line x1="76.05" y1="263.5" x2="76.05" y2="261.9" stroke="#666" stroke-width="0.7"/>
<line x1="83.67" y1="263.5" x2="83.67" y2="261.9" stroke="#666" stroke-width="0.7"/>
<line x1="91.28" y1="263.5" x2="91.28" y2="261.9" stroke="#666" stroke-width="0.7"/>
<line x1="98.9" y1="263.5" x2="98.9" y2="261.9" stroke="#666" stroke-width="0.7"/>
<line x1="106.52" y1="263.5" x2="106.52" y2="261.9" stroke="#666" stroke-width="0.7"/>
<line x1="114.13" y1="263.5" x2="114.13" y2="261.9" stroke="#666" stroke-width="0.7"/>
<line x1="121.75" y1="263.5" x2="121.75" y2="261.9" stroke="#666" stroke-width="0.7"/>
<line x1="129.37" y1="263.5" x2="129.37" y2="261.9" stroke="#666" stroke-width="0.7"/>
<line x1="136.98" y1="263.5" x2="136.98" y2="261.9" stroke="#666" stroke-width="0.7"/>
<line x1="144.6" y1="263.5" x2="144.6" y2="261.9" stroke="#666" stroke-width="0.7"/>
<text transform="translate(58.5 219.7)" font-size="8.3" text-anchor="start" fill="#222" font-weight="normal" stroke="#222" stroke-width="0.12"><tspan font-style="italic">x</tspan> = 0.4</text>
<rect x="53.2" y="263.5" width="91.4" height="54.3" fill="none" stroke="#7a7a7a" stroke-width="1.0"/>
<line x1="53.2" y1="317.8" x2="53.2" y2="316.2" stroke="#666" stroke-width="0.7"/>
<line x1="60.82" y1="317.8" x2="60.82" y2="316.2" stroke="#666" stroke-width="0.7"/>
<line x1="68.43" y1="317.8" x2="68.43" y2="316.2" stroke="#666" stroke-width="0.7"/>
<line x1="76.05" y1="317.8" x2="76.05" y2="316.2" stroke="#666" stroke-width="0.7"/>
<line x1="83.67" y1="317.8" x2="83.67" y2="316.2" stroke="#666" stroke-width="0.7"/>
<line x1="91.28" y1="317.8" x2="91.28" y2="316.2" stroke="#666" stroke-width="0.7"/>
<line x1="98.9" y1="317.8" x2="98.9" y2="316.2" stroke="#666" stroke-width="0.7"/>
<line x1="106.52" y1="317.8" x2="106.52" y2="316.2" stroke="#666" stroke-width="0.7"/>
<line x1="114.13" y1="317.8" x2="114.13" y2="316.2" stroke="#666" stroke-width="0.7"/>
<line x1="121.75" y1="317.8" x2="121.75" y2="316.2" stroke="#666" stroke-width="0.7"/>
<line x1="129.37" y1="317.8" x2="129.37" y2="316.2" stroke="#666" stroke-width="0.7"/>
<line x1="136.98" y1="317.8" x2="136.98" y2="316.2" stroke="#666" stroke-width="0.7"/>
<line x1="144.6" y1="317.8" x2="144.6" y2="316.2" stroke="#666" stroke-width="0.7"/>
<text transform="translate(58.5 274)" font-size="8.3" text-anchor="start" fill="#222" font-weight="normal" stroke="#222" stroke-width="0.12"><tspan font-style="italic">x</tspan> = 0.6</text>
<path d="M167.2 199.28 L167.9 200.65 L168.6 200.42 L169.3 201.9 L170 201.52 L170.7 201.29 L171.4 203.53 L172.1 202.91 L172.8 203.46 L173.5 203.78 L174.2 203.98 L174.9 201.24 L175.6 201.66 L176.3 200.65 L177 201.01 L177.7 201.41 L178.4 200.69 L179.1 198.23 L179.8 198.23 L180.5 199.57 L181.2 198.94 L181.9 197.95 L182.6 197.93 L183.3 196.86 L184 198.37 L184.7 196.86 L185.4 197.7 L186.1 196.5 L186.8 194.48 L187.5 194.41 L188.2 193.33 L188.9 194.29 L189.6 192.71 L190.3 190.56 L191 190.27 L191.7 190.15 L192.4 189.79 L193.1 189.5 L193.8 188.58 L194.5 188.27 L195.2 187.42 L195.9 189.41 L196.6 189.65 L197.3 189.95 L198 192.22 L198.7 194.56 L199.4 192.71 L200.1 193.2 L200.8 194.63 L201.5 193.44 L202.2 193.04 L202.9 192.93 L203.6 191.34 L204.3 190.84 L205 189.01 L205.7 188.07 L206.4 185.95 L207.1 181.22 L207.8 180.45 L208.5 179.06 L209.2 177.75 L209.9 176.51 L210.6 175.99 L211.3 176.89 L212 177.83 L212.7 179.97 L213.4 184.02 L214.1 186.94 L214.8 189.54 L215.5 191.95 L216.2 194.23 L216.9 197.7 L217.6 199.03 L218.3 199.42 L219 200.52 L219.7 200.41 L220.4 201.44 L221.1 201.45 L221.8 200.61 L222.5 200.48 L223.2 198.74" fill="none" stroke="#333333" stroke-width="1.0" stroke-linejoin="round"/>
<path d="M167.2 252.77 L167.9 251.98 L168.6 252.24 L169.3 252.47 L170 252.96 L170.7 253.74 L171.4 253.6 L172.1 253.58 L172.8 256.04 L173.5 255.1 L174.2 255.17 L174.9 255.5 L175.6 254.7 L176.3 254.1 L177 253.46 L177.7 253.58 L178.4 252.92 L179.1 253.15 L179.8 251.73 L180.5 251.71 L181.2 249.11 L181.9 249.58 L182.6 247.72 L183.3 245.52 L184 245.02 L184.7 245.51 L185.4 246.36 L186.1 244.81 L186.8 246.24 L187.5 245.83 L188.2 247.52 L188.9 245.88 L189.6 247.14 L190.3 247.94 L191 245.64 L191.7 244.57 L192.4 242.74 L193.1 241.85 L193.8 241.01 L194.5 241.34 L195.2 239.49 L195.9 239.5 L196.6 238.6 L197.3 239.3 L198 239.63 L198.7 238.69 L199.4 237.08 L200.1 238.04 L200.8 238.2 L201.5 236.84 L202.2 235.08 L202.9 236.61 L203.6 236.45 L204.3 234.81 L205 234.06 L205.7 233.97 L206.4 234.63 L207.1 235.2 L207.8 234.14 L208.5 234.22 L209.2 231.57 L209.9 231.06 L210.6 231.46 L211.3 230.83 L212 230.44 L212.7 232.37 L213.4 233.92 L214.1 236.06 L214.8 239.61 L215.5 241.7 L216.2 246.3 L216.9 248.29 L217.6 250.81 L218.3 252.38 L219 252.15 L219.7 253.04 L220.4 252.01 L221.1 254.39 L221.8 253.39 L222.5 254.45 L223.2 251.39" fill="none" stroke="#4848d0" stroke-width="1.0" stroke-linejoin="round"/>
<path d="M167.2 307.15 L167.9 307.85 L168.6 307.26 L169.3 307.08 L170 307.65 L170.7 308.02 L171.4 310.01 L172.1 308.57 L172.8 310.73 L173.5 310 L174.2 310.59 L174.9 310.96 L175.6 311.03 L176.3 311.35 L177 311.15 L177.7 310.26 L178.4 311.02 L179.1 309.37 L179.8 310.08 L180.5 309.71 L181.2 309.2 L181.9 307.41 L182.6 308.03 L183.3 307.95 L184 305.98 L184.7 304.92 L185.4 304.94 L186.1 305.35 L186.8 302.54 L187.5 301.49 L188.2 301.96 L188.9 301.69 L189.6 301.29 L190.3 299.55 L191 300.42 L191.7 297.64 L192.4 298.27 L193.1 295.97 L193.8 295.51 L194.5 295.82 L195.2 296.04 L195.9 297.9 L196.6 298.89 L197.3 298.79 L198 301.52 L198.7 300.56 L199.4 300.18 L200.1 300.05 L200.8 300.96 L201.5 300.65 L202.2 297.71 L202.9 296.23 L203.6 296.96 L204.3 294.32 L205 294.95 L205.7 292.15 L206.4 290.7 L207.1 288.02 L207.8 287.32 L208.5 284.73 L209.2 283.06 L209.9 283.86 L210.6 281.86 L211.3 284.45 L212 284.31 L212.7 287.92 L213.4 289.66 L214.1 293.21 L214.8 293.31 L215.5 297.17 L216.2 299.55 L216.9 303.58 L217.6 305.89 L218.3 306.63 L219 306.65 L219.7 307.45 L220.4 307.97 L221.1 308.73 L221.8 308.29 L222.5 307.74 L223.2 308.26" fill="none" stroke="#dc4c4c" stroke-width="1.0" stroke-linejoin="round"/>
<rect x="166.6" y="155" width="57.8" height="54.2" fill="none" stroke="#7a7a7a" stroke-width="1.0"/>
<line x1="166.6" y1="209.2" x2="166.6" y2="207.6" stroke="#666" stroke-width="0.7"/>
<line x1="171.42" y1="209.2" x2="171.42" y2="207.6" stroke="#666" stroke-width="0.7"/>
<line x1="176.23" y1="209.2" x2="176.23" y2="207.6" stroke="#666" stroke-width="0.7"/>
<line x1="181.05" y1="209.2" x2="181.05" y2="207.6" stroke="#666" stroke-width="0.7"/>
<line x1="185.87" y1="209.2" x2="185.87" y2="207.6" stroke="#666" stroke-width="0.7"/>
<line x1="190.68" y1="209.2" x2="190.68" y2="207.6" stroke="#666" stroke-width="0.7"/>
<line x1="195.5" y1="209.2" x2="195.5" y2="207.6" stroke="#666" stroke-width="0.7"/>
<line x1="200.32" y1="209.2" x2="200.32" y2="207.6" stroke="#666" stroke-width="0.7"/>
<line x1="205.13" y1="209.2" x2="205.13" y2="207.6" stroke="#666" stroke-width="0.7"/>
<line x1="209.95" y1="209.2" x2="209.95" y2="207.6" stroke="#666" stroke-width="0.7"/>
<line x1="214.77" y1="209.2" x2="214.77" y2="207.6" stroke="#666" stroke-width="0.7"/>
<line x1="219.58" y1="209.2" x2="219.58" y2="207.6" stroke="#666" stroke-width="0.7"/>
<line x1="224.4" y1="209.2" x2="224.4" y2="207.6" stroke="#666" stroke-width="0.7"/>
<text transform="translate(171.9 165.5)" font-size="8.3" text-anchor="start" fill="#222" font-weight="normal" stroke="#222" stroke-width="0.12"><tspan font-style="italic">x</tspan> = 0</text>
<rect x="166.6" y="209.2" width="57.8" height="54.3" fill="none" stroke="#7a7a7a" stroke-width="1.0"/>
<line x1="166.6" y1="263.5" x2="166.6" y2="261.9" stroke="#666" stroke-width="0.7"/>
<line x1="171.42" y1="263.5" x2="171.42" y2="261.9" stroke="#666" stroke-width="0.7"/>
<line x1="176.23" y1="263.5" x2="176.23" y2="261.9" stroke="#666" stroke-width="0.7"/>
<line x1="181.05" y1="263.5" x2="181.05" y2="261.9" stroke="#666" stroke-width="0.7"/>
<line x1="185.87" y1="263.5" x2="185.87" y2="261.9" stroke="#666" stroke-width="0.7"/>
<line x1="190.68" y1="263.5" x2="190.68" y2="261.9" stroke="#666" stroke-width="0.7"/>
<line x1="195.5" y1="263.5" x2="195.5" y2="261.9" stroke="#666" stroke-width="0.7"/>
<line x1="200.32" y1="263.5" x2="200.32" y2="261.9" stroke="#666" stroke-width="0.7"/>
<line x1="205.13" y1="263.5" x2="205.13" y2="261.9" stroke="#666" stroke-width="0.7"/>
<line x1="209.95" y1="263.5" x2="209.95" y2="261.9" stroke="#666" stroke-width="0.7"/>
<line x1="214.77" y1="263.5" x2="214.77" y2="261.9" stroke="#666" stroke-width="0.7"/>
<line x1="219.58" y1="263.5" x2="219.58" y2="261.9" stroke="#666" stroke-width="0.7"/>
<line x1="224.4" y1="263.5" x2="224.4" y2="261.9" stroke="#666" stroke-width="0.7"/>
<text transform="translate(171.9 219.7)" font-size="8.3" text-anchor="start" fill="#222" font-weight="normal" stroke="#222" stroke-width="0.12"><tspan font-style="italic">x</tspan> = 0.4</text>
<rect x="166.6" y="263.5" width="57.8" height="54.3" fill="none" stroke="#7a7a7a" stroke-width="1.0"/>
<line x1="166.6" y1="317.8" x2="166.6" y2="316.2" stroke="#666" stroke-width="0.7"/>
<line x1="171.42" y1="317.8" x2="171.42" y2="316.2" stroke="#666" stroke-width="0.7"/>
<line x1="176.23" y1="317.8" x2="176.23" y2="316.2" stroke="#666" stroke-width="0.7"/>
<line x1="181.05" y1="317.8" x2="181.05" y2="316.2" stroke="#666" stroke-width="0.7"/>
<line x1="185.87" y1="317.8" x2="185.87" y2="316.2" stroke="#666" stroke-width="0.7"/>
<line x1="190.68" y1="317.8" x2="190.68" y2="316.2" stroke="#666" stroke-width="0.7"/>
<line x1="195.5" y1="317.8" x2="195.5" y2="316.2" stroke="#666" stroke-width="0.7"/>
<line x1="200.32" y1="317.8" x2="200.32" y2="316.2" stroke="#666" stroke-width="0.7"/>
<line x1="205.13" y1="317.8" x2="205.13" y2="316.2" stroke="#666" stroke-width="0.7"/>
<line x1="209.95" y1="317.8" x2="209.95" y2="316.2" stroke="#666" stroke-width="0.7"/>
<line x1="214.77" y1="317.8" x2="214.77" y2="316.2" stroke="#666" stroke-width="0.7"/>
<line x1="219.58" y1="317.8" x2="219.58" y2="316.2" stroke="#666" stroke-width="0.7"/>
<line x1="224.4" y1="317.8" x2="224.4" y2="316.2" stroke="#666" stroke-width="0.7"/>
<text transform="translate(171.9 274)" font-size="8.3" text-anchor="start" fill="#222" font-weight="normal" stroke="#222" stroke-width="0.12"><tspan font-style="italic">x</tspan> = 0.6</text>
<path d="M246.7 202.04 L247.2 202.03 L247.7 202.02 L248.2 202.01 L248.7 202 L249.2 201.99 L249.7 201.97 L250.2 201.96 L250.7 201.95 L251.2 201.93 L251.7 201.91 L252.2 201.9 L252.7 201.88 L253.2 201.86 L253.7 201.84 L254.2 201.82 L254.7 201.79 L255.2 201.76 L255.7 201.72 L256.2 201.68 L256.7 201.62 L257.2 201.54 L257.7 201.44 L258.2 201.3 L258.7 201.11 L259.2 200.85 L259.7 200.5 L260.2 200.03 L260.7 199.42 L261.2 198.63 L261.7 197.64 L262.2 196.43 L262.7 194.97 L263.2 193.27 L263.7 191.34 L264.2 189.22 L264.7 186.95 L265.2 184.62 L265.7 182.33 L266.2 180.18 L266.7 178.28 L267.2 176.76 L267.7 175.7 L268.2 175.17 L268.7 175.22 L269.2 175.84 L269.7 176.99 L270.2 178.58 L270.7 180.52 L271.2 182.69 L271.7 184.99 L272.2 187.29 L272.7 189.52 L273.2 191.59 L273.7 193.46 L274.2 195.09 L274.7 196.48 L275.2 197.63 L275.7 198.56 L276.2 199.29 L276.7 199.85 L277.2 200.27 L277.7 200.58 L278.2 200.8 L278.7 200.95 L279.2 201.06 L279.7 201.13 L280.2 201.17 L280.7 201.19 L281.2 201.2 L281.7 201.19 L282.2 201.17 L282.7 201.14 L283.2 201.08 L283.7 201 L284.2 200.88 L284.7 200.7 L285.2 200.45 L285.7 200.09 L286.2 199.6 L286.7 198.92 L287.2 198.02 L287.7 196.85 L288.2 195.36 L288.7 193.53 L289.2 191.34 L289.7 188.8 L290.2 185.95 L290.7 182.86 L291.2 179.65 L291.7 176.46 L292.2 173.46 L292.7 170.82 L293.2 168.73 L293.7 167.33 L294.2 166.73 L294.7 166.98 L295.2 168.05 L295.7 169.85 L296.2 172.26 L296.7 175.11 L297.2 178.2 L297.7 181.36 L298.2 184.44 L298.7 187.3 L299.2 189.85 L299.7 192.04 L300.2 193.86 L300.7 195.3 L301.2 196.41 L301.7 197.24 L302.2 197.83 L302.7 198.25 L303.2 198.54 L303.7 198.74 L304.2 198.87 L304.7 198.96 L305.2 199.01 L305.7 199.06 L306.2 199.09 L306.7 199.11 L307.2 199.13 L307.7 199.15 L308.2 199.18 L308.7 199.24 L309.2 199.31 L309.7 199.37 L310.2 199.43 L310.7 199.49 L311.2 199.55 L311.7 199.61 L312.2 199.67 L312.7 199.72 L313.2 199.78 L313.7 199.84 L314.2 199.89 L314.7 199.95 L315.2 200 L315.7 200.05 L316.2 200.11 L316.7 200.16 L317.2 200.21 L317.7 200.26 L318.2 200.32 L318.7 200.37 L319.2 200.42 L319.7 200.47 L320.2 200.52 L320.7 200.57 L321.2 200.62 L321.7 200.67 L322.2 200.72 L322.7 200.77 L323.2 200.82" fill="none" stroke="#333333" stroke-width="1.0" stroke-linejoin="round"/>
<path d="M246.7 256.24 L247.2 256.23 L247.7 256.22 L248.2 256.21 L248.7 256.2 L249.2 256.19 L249.7 256.17 L250.2 256.16 L250.7 256.15 L251.2 256.13 L251.7 256.11 L252.2 256.1 L252.7 256.08 L253.2 256.06 L253.7 256.04 L254.2 256.02 L254.7 255.99 L255.2 255.96 L255.7 255.92 L256.2 255.88 L256.7 255.82 L257.2 255.74 L257.7 255.64 L258.2 255.5 L258.7 255.31 L259.2 255.05 L259.7 254.7 L260.2 254.23 L260.7 253.62 L261.2 252.83 L261.7 251.84 L262.2 250.63 L262.7 249.17 L263.2 247.47 L263.7 245.54 L264.2 243.42 L264.7 241.15 L265.2 238.82 L265.7 236.53 L266.2 234.38 L266.7 232.48 L267.2 230.96 L267.7 229.9 L268.2 229.37 L268.7 229.42 L269.2 230.04 L269.7 231.19 L270.2 232.78 L270.7 234.72 L271.2 236.89 L271.7 239.19 L272.2 241.49 L272.7 243.72 L273.2 245.79 L273.7 247.66 L274.2 249.29 L274.7 250.68 L275.2 251.83 L275.7 252.76 L276.2 253.49 L276.7 254.05 L277.2 254.47 L277.7 254.78 L278.2 255 L278.7 255.15 L279.2 255.26 L279.7 255.33 L280.2 255.37 L280.7 255.39 L281.2 255.4 L281.7 255.39 L282.2 255.37 L282.7 255.34 L283.2 255.28 L283.7 255.2 L284.2 255.08 L284.7 254.9 L285.2 254.65 L285.7 254.29 L286.2 253.8 L286.7 253.12 L287.2 252.22 L287.7 251.05 L288.2 249.56 L288.7 247.73 L289.2 245.54 L289.7 243 L290.2 240.15 L290.7 237.06 L291.2 233.85 L291.7 230.66 L292.2 227.66 L292.7 225.02 L293.2 222.93 L293.7 221.53 L294.2 220.93 L294.7 221.18 L295.2 222.25 L295.7 224.05 L296.2 226.46 L296.7 229.31 L297.2 232.4 L297.7 235.56 L298.2 238.64 L298.7 241.5 L299.2 244.05 L299.7 246.24 L300.2 248.06 L300.7 249.5 L301.2 250.61 L301.7 251.44 L302.2 252.03 L302.7 252.45 L303.2 252.74 L303.7 252.94 L304.2 253.07 L304.7 253.16 L305.2 253.21 L305.7 253.26 L306.2 253.29 L306.7 253.31 L307.2 253.33 L307.7 253.35 L308.2 253.38 L308.7 253.44 L309.2 253.51 L309.7 253.57 L310.2 253.63 L310.7 253.69 L311.2 253.75 L311.7 253.81 L312.2 253.87 L312.7 253.92 L313.2 253.98 L313.7 254.04 L314.2 254.09 L314.7 254.15 L315.2 254.2 L315.7 254.25 L316.2 254.31 L316.7 254.36 L317.2 254.41 L317.7 254.46 L318.2 254.52 L318.7 254.57 L319.2 254.62 L319.7 254.67 L320.2 254.72 L320.7 254.77 L321.2 254.82 L321.7 254.87 L322.2 254.92 L322.7 254.97 L323.2 255.02" fill="none" stroke="#4848d0" stroke-width="1.0" stroke-linejoin="round"/>
<path d="M246.7 310.54 L247.2 310.53 L247.7 310.52 L248.2 310.51 L248.7 310.5 L249.2 310.49 L249.7 310.47 L250.2 310.46 L250.7 310.45 L251.2 310.43 L251.7 310.41 L252.2 310.4 L252.7 310.38 L253.2 310.36 L253.7 310.34 L254.2 310.32 L254.7 310.29 L255.2 310.26 L255.7 310.22 L256.2 310.18 L256.7 310.12 L257.2 310.04 L257.7 309.94 L258.2 309.8 L258.7 309.61 L259.2 309.35 L259.7 309 L260.2 308.53 L260.7 307.92 L261.2 307.13 L261.7 306.14 L262.2 304.93 L262.7 303.47 L263.2 301.77 L263.7 299.84 L264.2 297.72 L264.7 295.45 L265.2 293.12 L265.7 290.83 L266.2 288.68 L266.7 286.78 L267.2 285.26 L267.7 284.2 L268.2 283.67 L268.7 283.72 L269.2 284.34 L269.7 285.49 L270.2 287.08 L270.7 289.02 L271.2 291.19 L271.7 293.49 L272.2 295.79 L272.7 298.02 L273.2 300.09 L273.7 301.96 L274.2 303.59 L274.7 304.98 L275.2 306.13 L275.7 307.06 L276.2 307.79 L276.7 308.35 L277.2 308.77 L277.7 309.08 L278.2 309.3 L278.7 309.45 L279.2 309.56 L279.7 309.63 L280.2 309.67 L280.7 309.69 L281.2 309.7 L281.7 309.69 L282.2 309.67 L282.7 309.64 L283.2 309.58 L283.7 309.5 L284.2 309.38 L284.7 309.2 L285.2 308.95 L285.7 308.59 L286.2 308.1 L286.7 307.42 L287.2 306.52 L287.7 305.35 L288.2 303.86 L288.7 302.03 L289.2 299.84 L289.7 297.3 L290.2 294.45 L290.7 291.36 L291.2 288.15 L291.7 284.96 L292.2 281.96 L292.7 279.32 L293.2 277.23 L293.7 275.83 L294.2 275.23 L294.7 275.48 L295.2 276.55 L295.7 278.35 L296.2 280.76 L296.7 283.61 L297.2 286.7 L297.7 289.86 L298.2 292.94 L298.7 295.8 L299.2 298.35 L299.7 300.54 L300.2 302.36 L300.7 303.8 L301.2 304.91 L301.7 305.74 L302.2 306.33 L302.7 306.75 L303.2 307.04 L303.7 307.24 L304.2 307.37 L304.7 307.46 L305.2 307.51 L305.7 307.56 L306.2 307.59 L306.7 307.61 L307.2 307.63 L307.7 307.65 L308.2 307.68 L308.7 307.74 L309.2 307.81 L309.7 307.87 L310.2 307.93 L310.7 307.99 L311.2 308.05 L311.7 308.11 L312.2 308.17 L312.7 308.22 L313.2 308.28 L313.7 308.34 L314.2 308.39 L314.7 308.45 L315.2 308.5 L315.7 308.55 L316.2 308.61 L316.7 308.66 L317.2 308.71 L317.7 308.76 L318.2 308.82 L318.7 308.87 L319.2 308.92 L319.7 308.97 L320.2 309.02 L320.7 309.07 L321.2 309.12 L321.7 309.17 L322.2 309.22 L322.7 309.27 L323.2 309.32" fill="none" stroke="#dc4c4c" stroke-width="1.0" stroke-linejoin="round"/>
<rect x="246.4" y="155" width="77.2" height="54.2" fill="none" stroke="#7a7a7a" stroke-width="1.0"/>
<line x1="246.4" y1="209.2" x2="246.4" y2="207.6" stroke="#666" stroke-width="0.7"/>
<line x1="251.22" y1="209.2" x2="251.22" y2="207.6" stroke="#666" stroke-width="0.7"/>
<line x1="256.05" y1="209.2" x2="256.05" y2="207.6" stroke="#666" stroke-width="0.7"/>
<line x1="260.88" y1="209.2" x2="260.88" y2="207.6" stroke="#666" stroke-width="0.7"/>
<line x1="265.7" y1="209.2" x2="265.7" y2="207.6" stroke="#666" stroke-width="0.7"/>
<line x1="270.53" y1="209.2" x2="270.53" y2="207.6" stroke="#666" stroke-width="0.7"/>
<line x1="275.35" y1="209.2" x2="275.35" y2="207.6" stroke="#666" stroke-width="0.7"/>
<line x1="280.18" y1="209.2" x2="280.18" y2="207.6" stroke="#666" stroke-width="0.7"/>
<line x1="285" y1="209.2" x2="285" y2="207.6" stroke="#666" stroke-width="0.7"/>
<line x1="289.83" y1="209.2" x2="289.83" y2="207.6" stroke="#666" stroke-width="0.7"/>
<line x1="294.65" y1="209.2" x2="294.65" y2="207.6" stroke="#666" stroke-width="0.7"/>
<line x1="299.48" y1="209.2" x2="299.48" y2="207.6" stroke="#666" stroke-width="0.7"/>
<line x1="304.3" y1="209.2" x2="304.3" y2="207.6" stroke="#666" stroke-width="0.7"/>
<line x1="309.12" y1="209.2" x2="309.12" y2="207.6" stroke="#666" stroke-width="0.7"/>
<line x1="313.95" y1="209.2" x2="313.95" y2="207.6" stroke="#666" stroke-width="0.7"/>
<line x1="318.78" y1="209.2" x2="318.78" y2="207.6" stroke="#666" stroke-width="0.7"/>
<line x1="323.6" y1="209.2" x2="323.6" y2="207.6" stroke="#666" stroke-width="0.7"/>
<text transform="translate(251.7 165.5)" font-size="8.3" text-anchor="start" fill="#222" font-weight="normal" stroke="#222" stroke-width="0.12"><tspan font-style="italic">x</tspan> = 0</text>
<rect x="246.4" y="209.2" width="77.2" height="54.3" fill="none" stroke="#7a7a7a" stroke-width="1.0"/>
<line x1="246.4" y1="263.5" x2="246.4" y2="261.9" stroke="#666" stroke-width="0.7"/>
<line x1="251.22" y1="263.5" x2="251.22" y2="261.9" stroke="#666" stroke-width="0.7"/>
<line x1="256.05" y1="263.5" x2="256.05" y2="261.9" stroke="#666" stroke-width="0.7"/>
<line x1="260.88" y1="263.5" x2="260.88" y2="261.9" stroke="#666" stroke-width="0.7"/>
<line x1="265.7" y1="263.5" x2="265.7" y2="261.9" stroke="#666" stroke-width="0.7"/>
<line x1="270.53" y1="263.5" x2="270.53" y2="261.9" stroke="#666" stroke-width="0.7"/>
<line x1="275.35" y1="263.5" x2="275.35" y2="261.9" stroke="#666" stroke-width="0.7"/>
<line x1="280.18" y1="263.5" x2="280.18" y2="261.9" stroke="#666" stroke-width="0.7"/>
<line x1="285" y1="263.5" x2="285" y2="261.9" stroke="#666" stroke-width="0.7"/>
<line x1="289.83" y1="263.5" x2="289.83" y2="261.9" stroke="#666" stroke-width="0.7"/>
<line x1="294.65" y1="263.5" x2="294.65" y2="261.9" stroke="#666" stroke-width="0.7"/>
<line x1="299.48" y1="263.5" x2="299.48" y2="261.9" stroke="#666" stroke-width="0.7"/>
<line x1="304.3" y1="263.5" x2="304.3" y2="261.9" stroke="#666" stroke-width="0.7"/>
<line x1="309.12" y1="263.5" x2="309.12" y2="261.9" stroke="#666" stroke-width="0.7"/>
<line x1="313.95" y1="263.5" x2="313.95" y2="261.9" stroke="#666" stroke-width="0.7"/>
<line x1="318.78" y1="263.5" x2="318.78" y2="261.9" stroke="#666" stroke-width="0.7"/>
<line x1="323.6" y1="263.5" x2="323.6" y2="261.9" stroke="#666" stroke-width="0.7"/>
<text transform="translate(251.7 219.7)" font-size="8.3" text-anchor="start" fill="#222" font-weight="normal" stroke="#222" stroke-width="0.12"><tspan font-style="italic">x</tspan> = 0.4</text>
<rect x="246.4" y="263.5" width="77.2" height="54.3" fill="none" stroke="#7a7a7a" stroke-width="1.0"/>
<line x1="246.4" y1="317.8" x2="246.4" y2="316.2" stroke="#666" stroke-width="0.7"/>
<line x1="251.22" y1="317.8" x2="251.22" y2="316.2" stroke="#666" stroke-width="0.7"/>
<line x1="256.05" y1="317.8" x2="256.05" y2="316.2" stroke="#666" stroke-width="0.7"/>
<line x1="260.88" y1="317.8" x2="260.88" y2="316.2" stroke="#666" stroke-width="0.7"/>
<line x1="265.7" y1="317.8" x2="265.7" y2="316.2" stroke="#666" stroke-width="0.7"/>
<line x1="270.53" y1="317.8" x2="270.53" y2="316.2" stroke="#666" stroke-width="0.7"/>
<line x1="275.35" y1="317.8" x2="275.35" y2="316.2" stroke="#666" stroke-width="0.7"/>
<line x1="280.18" y1="317.8" x2="280.18" y2="316.2" stroke="#666" stroke-width="0.7"/>
<line x1="285" y1="317.8" x2="285" y2="316.2" stroke="#666" stroke-width="0.7"/>
<line x1="289.83" y1="317.8" x2="289.83" y2="316.2" stroke="#666" stroke-width="0.7"/>
<line x1="294.65" y1="317.8" x2="294.65" y2="316.2" stroke="#666" stroke-width="0.7"/>
<line x1="299.48" y1="317.8" x2="299.48" y2="316.2" stroke="#666" stroke-width="0.7"/>
<line x1="304.3" y1="317.8" x2="304.3" y2="316.2" stroke="#666" stroke-width="0.7"/>
<line x1="309.12" y1="317.8" x2="309.12" y2="316.2" stroke="#666" stroke-width="0.7"/>
<line x1="313.95" y1="317.8" x2="313.95" y2="316.2" stroke="#666" stroke-width="0.7"/>
<line x1="318.78" y1="317.8" x2="318.78" y2="316.2" stroke="#666" stroke-width="0.7"/>
<line x1="323.6" y1="317.8" x2="323.6" y2="316.2" stroke="#666" stroke-width="0.7"/>
<text transform="translate(251.7 274)" font-size="8.3" text-anchor="start" fill="#222" font-weight="normal" stroke="#222" stroke-width="0.12"><tspan font-style="italic">x</tspan> = 0.6</text>
<path d="M339.5 199.1 L340.32 199.17 L341.37 199.26 L342.62 199.37 L344.02 199.5 L345.52 199.63 L347.1 199.77 L348.71 199.91 L350.31 200.05 L351.85 200.18 L353.3 200.3 L354.7 200.41 L356.11 200.53 L357.53 200.64 L358.95 200.75 L360.37 200.86 L361.78 200.97 L363.19 201.08 L364.58 201.19 L365.95 201.29 L367.3 201.4 L368.66 201.51 L370.05 201.62 L371.46 201.74 L372.87 201.86 L374.24 201.97 L375.57 202.08 L376.83 202.18 L378.01 202.27 L379.07 202.34 L380 202.4 L380.79 202.45 L381.44 202.5 L381.97 202.54 L382.42 202.57 L382.81 202.59 L383.14 202.6 L383.46 202.59 L383.78 202.55 L384.12 202.49 L384.5 202.4 L384.9 202.3 L385.29 202.21 L385.66 202.12 L386.03 202 L386.39 201.86 L386.75 201.68 L387.12 201.44 L387.49 201.14 L387.89 200.77 L388.3 200.3 L388.73 199.74 L389.18 199.1 L389.65 198.4 L390.12 197.62 L390.6 196.79 L391.08 195.92 L391.57 195 L392.05 194.06 L392.53 193.09 L393 192.1 L393.47 191.07 L393.95 189.98 L394.43 188.84 L394.9 187.65 L395.38 186.44 L395.85 185.22 L396.31 184.01 L396.76 182.8 L397.19 181.63 L397.6 180.5 L397.99 179.34 L398.36 178.09 L398.72 176.81 L399.06 175.52 L399.39 174.26 L399.72 173.09 L400.04 172.03 L400.36 171.14 L400.68 170.45 L401 170 L401.32 169.87 L401.63 170.05 L401.94 170.48 L402.24 171.08 L402.54 171.78 L402.85 172.51 L403.15 173.18 L403.46 173.74 L403.78 174.1 L404.1 174.2 L404.44 173.99 L404.78 173.52 L405.14 172.87 L405.5 172.1 L405.86 171.28 L406.22 170.48 L406.57 169.76 L406.93 169.2 L407.27 168.85 L407.6 168.8 L407.92 169.01 L408.24 169.39 L408.54 169.93 L408.85 170.61 L409.14 171.41 L409.44 172.3 L409.73 173.28 L410.02 174.32 L410.31 175.4 L410.6 176.5 L410.88 177.7 L411.15 179.07 L411.42 180.55 L411.68 182.12 L411.94 183.73 L412.2 185.33 L412.48 186.91 L412.77 188.4 L413.07 189.78 L413.4 191 L413.75 192.1 L414.13 193.13 L414.52 194.09 L414.93 194.99 L415.35 195.83 L415.77 196.6 L416.19 197.31 L416.61 197.97 L417.01 198.56 L417.4 199.1 L417.77 199.56 L418.12 199.93 L418.46 200.22 L418.8 200.44 L419.13 200.61 L419.47 200.75 L419.82 200.86 L420.19 200.97 L420.58 201.07 L421 201.2 L421.47 201.33 L422.01 201.44 L422.58 201.53 L423.18 201.61 L423.77 201.68 L424.36 201.74 L424.9 201.79 L425.38 201.83 L425.79 201.86 L426.1 201.9" fill="none" stroke="#333333" stroke-width="1.0" stroke-linejoin="round"/>
<path d="M339.5 256.75 L339.81 256.72 L340.21 256.71 L340.69 256.7 L341.22 256.68 L341.8 256.66 L342.4 256.6 L343.01 256.51 L343.62 256.37 L344.2 256.17 L344.75 255.9 L345.28 255.55 L345.81 255.14 L346.35 254.66 L346.89 254.14 L347.43 253.58 L347.96 252.99 L348.49 252.39 L349 251.78 L349.51 251.18 L350 250.6 L350.47 250.01 L350.92 249.38 L351.36 248.72 L351.78 248.05 L352.2 247.38 L352.62 246.73 L353.05 246.1 L353.48 245.51 L353.93 244.97 L354.4 244.5 L354.89 244.06 L355.4 243.62 L355.93 243.19 L356.46 242.79 L357 242.44 L357.54 242.15 L358.07 241.93 L358.6 241.81 L359.11 241.79 L359.6 241.9 L360.08 242.15 L360.55 242.53 L361.01 243.03 L361.46 243.63 L361.91 244.29 L362.34 245.01 L362.77 245.76 L363.19 246.53 L363.6 247.28 L364 248 L364.38 248.75 L364.74 249.59 L365.09 250.49 L365.42 251.41 L365.75 252.33 L366.08 253.22 L366.41 254.05 L366.76 254.8 L367.12 255.42 L367.5 255.9 L367.9 256.28 L368.32 256.6 L368.75 256.87 L369.2 257.06 L369.64 257.16 L370.1 257.16 L370.55 257.05 L371.01 256.81 L371.46 256.43 L371.9 255.9 L372.33 255.14 L372.74 254.11 L373.15 252.89 L373.55 251.52 L373.96 250.07 L374.38 248.6 L374.82 247.16 L375.28 245.8 L375.77 244.6 L376.3 243.6 L376.88 242.71 L377.51 241.81 L378.18 240.94 L378.87 240.13 L379.58 239.41 L380.29 238.82 L380.99 238.39 L381.67 238.16 L382.31 238.15 L382.9 238.4 L383.45 239.06 L383.97 240.18 L384.46 241.65 L384.93 243.33 L385.39 245.12 L385.83 246.89 L386.27 248.54 L386.71 249.93 L387.15 250.96 L387.6 251.5 L388.05 251.55 L388.5 251.24 L388.94 250.62 L389.38 249.77 L389.82 248.75 L390.25 247.64 L390.69 246.5 L391.12 245.4 L391.56 244.41 L392 243.6 L392.44 242.95 L392.88 242.39 L393.32 241.89 L393.76 241.41 L394.2 240.93 L394.64 240.42 L395.08 239.85 L395.52 239.2 L395.96 238.42 L396.4 237.5 L396.84 236.33 L397.29 234.87 L397.75 233.22 L398.2 231.46 L398.66 229.68 L399.1 227.97 L399.55 226.41 L399.98 225.08 L400.4 224.09 L400.8 223.5 L401.19 223.39 L401.56 223.7 L401.92 224.33 L402.26 225.21 L402.61 226.23 L402.94 227.32 L403.28 228.38 L403.61 229.32 L403.95 230.06 L404.3 230.5 L404.64 230.58 L404.97 230.37 L405.3 229.96 L405.62 229.42 L405.94 228.86 L406.28 228.36 L406.63 228.01 L406.99 227.9 L407.38 228.11 L407.8 228.75 L408.25 229.88 L408.73 231.47 L409.23 233.4 L409.75 235.57 L410.29 237.88 L410.83 240.24 L411.38 242.53 L411.93 244.66 L412.47 246.51 L413 248 L413.51 249.17 L414.01 250.15 L414.5 250.97 L414.99 251.65 L415.49 252.22 L416 252.69 L416.52 253.09 L417.08 253.44 L417.67 253.77 L418.3 254.1 L419.01 254.39 L419.82 254.58 L420.7 254.7 L421.61 254.76 L422.53 254.78 L423.42 254.77 L424.25 254.74 L425 254.71 L425.62 254.69 L426.1 254.7" fill="none" stroke="#4848d0" stroke-width="1.0" stroke-linejoin="round"/>
<path d="M339.5 311.1 L339.87 311.11 L340.34 311.17 L340.91 311.24 L341.54 311.32 L342.22 311.39 L342.92 311.42 L343.64 311.39 L344.33 311.29 L344.99 311.1 L345.6 310.8 L346.17 310.37 L346.73 309.83 L347.28 309.19 L347.82 308.48 L348.36 307.72 L348.89 306.93 L349.41 306.11 L349.91 305.31 L350.41 304.53 L350.9 303.8 L351.37 303.1 L351.83 302.39 L352.27 301.68 L352.71 300.96 L353.13 300.25 L353.56 299.54 L353.97 298.84 L354.4 298.14 L354.82 297.44 L355.25 296.75 L355.69 296 L356.13 295.15 L356.58 294.25 L357.03 293.34 L357.48 292.46 L357.92 291.66 L358.36 290.98 L358.78 290.46 L359.2 290.15 L359.6 290.1 L359.98 290.32 L360.34 290.77 L360.68 291.42 L361.02 292.23 L361.35 293.17 L361.68 294.2 L362.01 295.29 L362.36 296.39 L362.72 297.47 L363.1 298.5 L363.5 299.57 L363.92 300.78 L364.35 302.09 L364.8 303.43 L365.24 304.78 L365.7 306.08 L366.15 307.29 L366.61 308.36 L367.06 309.24 L367.5 309.9 L367.94 310.36 L368.37 310.69 L368.79 310.89 L369.22 310.97 L369.65 310.93 L370.08 310.77 L370.52 310.49 L370.97 310.1 L371.43 309.61 L371.9 309 L372.38 308.23 L372.88 307.28 L373.38 306.16 L373.89 304.92 L374.41 303.58 L374.94 302.19 L375.47 300.78 L376.01 299.38 L376.55 298.03 L377.1 296.75 L377.67 295.43 L378.28 293.96 L378.91 292.41 L379.55 290.84 L380.19 289.31 L380.82 287.88 L381.41 286.63 L381.97 285.6 L382.47 284.87 L382.9 284.5 L383.25 284.51 L383.53 284.84 L383.76 285.46 L383.94 286.3 L384.09 287.32 L384.24 288.46 L384.38 289.68 L384.55 290.93 L384.75 292.15 L385 293.3 L385.29 294.51 L385.61 295.91 L385.95 297.44 L386.3 299.03 L386.66 300.62 L387.03 302.15 L387.41 303.55 L387.78 304.77 L388.14 305.74 L388.5 306.4 L388.85 306.74 L389.2 306.83 L389.55 306.71 L389.9 306.41 L390.25 305.96 L390.6 305.41 L390.95 304.8 L391.3 304.15 L391.65 303.5 L392 302.9 L392.34 302.32 L392.68 301.73 L393.01 301.1 L393.33 300.43 L393.66 299.72 L394 298.94 L394.35 298.09 L394.71 297.15 L395.09 296.13 L395.5 295 L395.94 293.64 L396.41 292 L396.91 290.16 L397.43 288.21 L397.95 286.25 L398.47 284.35 L398.99 282.61 L399.49 281.12 L399.96 279.97 L400.4 279.25 L400.8 279.04 L401.18 279.3 L401.54 279.93 L401.88 280.81 L402.21 281.83 L402.54 282.9 L402.86 283.9 L403.2 284.72 L403.54 285.26 L403.9 285.4 L404.27 285.06 L404.65 284.31 L405.03 283.26 L405.41 282.03 L405.8 280.74 L406.19 279.51 L406.59 278.45 L406.99 277.68 L407.39 277.32 L407.8 277.5 L408.21 278.24 L408.63 279.46 L409.06 281.05 L409.49 282.92 L409.92 284.99 L410.35 287.16 L410.79 289.34 L411.23 291.43 L411.66 293.35 L412.1 295 L412.51 296.49 L412.89 297.97 L413.25 299.42 L413.6 300.83 L413.97 302.17 L414.36 303.42 L414.79 304.58 L415.29 305.61 L415.85 306.51 L416.5 307.25 L417.29 307.8 L418.24 308.16 L419.3 308.37 L420.43 308.45 L421.57 308.44 L422.7 308.37 L423.76 308.27 L424.71 308.17 L425.51 308.1 L426.1 308.1" fill="none" stroke="#dc4c4c" stroke-width="1.0" stroke-linejoin="round"/>
<rect x="339.6" y="155" width="86.5" height="54.2" fill="none" stroke="#7a7a7a" stroke-width="1.0"/>
<line x1="339.6" y1="209.2" x2="339.6" y2="207.6" stroke="#666" stroke-width="0.7"/>
<line x1="344.41" y1="209.2" x2="344.41" y2="207.6" stroke="#666" stroke-width="0.7"/>
<line x1="349.21" y1="209.2" x2="349.21" y2="207.6" stroke="#666" stroke-width="0.7"/>
<line x1="354.02" y1="209.2" x2="354.02" y2="207.6" stroke="#666" stroke-width="0.7"/>
<line x1="358.82" y1="209.2" x2="358.82" y2="207.6" stroke="#666" stroke-width="0.7"/>
<line x1="363.63" y1="209.2" x2="363.63" y2="207.6" stroke="#666" stroke-width="0.7"/>
<line x1="368.43" y1="209.2" x2="368.43" y2="207.6" stroke="#666" stroke-width="0.7"/>
<line x1="373.24" y1="209.2" x2="373.24" y2="207.6" stroke="#666" stroke-width="0.7"/>
<line x1="378.04" y1="209.2" x2="378.04" y2="207.6" stroke="#666" stroke-width="0.7"/>
<line x1="382.85" y1="209.2" x2="382.85" y2="207.6" stroke="#666" stroke-width="0.7"/>
<line x1="387.66" y1="209.2" x2="387.66" y2="207.6" stroke="#666" stroke-width="0.7"/>
<line x1="392.46" y1="209.2" x2="392.46" y2="207.6" stroke="#666" stroke-width="0.7"/>
<line x1="397.27" y1="209.2" x2="397.27" y2="207.6" stroke="#666" stroke-width="0.7"/>
<line x1="402.07" y1="209.2" x2="402.07" y2="207.6" stroke="#666" stroke-width="0.7"/>
<line x1="406.88" y1="209.2" x2="406.88" y2="207.6" stroke="#666" stroke-width="0.7"/>
<line x1="411.68" y1="209.2" x2="411.68" y2="207.6" stroke="#666" stroke-width="0.7"/>
<line x1="416.49" y1="209.2" x2="416.49" y2="207.6" stroke="#666" stroke-width="0.7"/>
<line x1="421.29" y1="209.2" x2="421.29" y2="207.6" stroke="#666" stroke-width="0.7"/>
<line x1="426.1" y1="209.2" x2="426.1" y2="207.6" stroke="#666" stroke-width="0.7"/>
<text transform="translate(344.9 165.5)" font-size="8.3" text-anchor="start" fill="#222" font-weight="normal" stroke="#222" stroke-width="0.12"><tspan font-style="italic">x</tspan> = 0</text>
<rect x="339.6" y="209.2" width="86.5" height="54.3" fill="none" stroke="#7a7a7a" stroke-width="1.0"/>
<line x1="339.6" y1="263.5" x2="339.6" y2="261.9" stroke="#666" stroke-width="0.7"/>
<line x1="344.41" y1="263.5" x2="344.41" y2="261.9" stroke="#666" stroke-width="0.7"/>
<line x1="349.21" y1="263.5" x2="349.21" y2="261.9" stroke="#666" stroke-width="0.7"/>
<line x1="354.02" y1="263.5" x2="354.02" y2="261.9" stroke="#666" stroke-width="0.7"/>
<line x1="358.82" y1="263.5" x2="358.82" y2="261.9" stroke="#666" stroke-width="0.7"/>
<line x1="363.63" y1="263.5" x2="363.63" y2="261.9" stroke="#666" stroke-width="0.7"/>
<line x1="368.43" y1="263.5" x2="368.43" y2="261.9" stroke="#666" stroke-width="0.7"/>
<line x1="373.24" y1="263.5" x2="373.24" y2="261.9" stroke="#666" stroke-width="0.7"/>
<line x1="378.04" y1="263.5" x2="378.04" y2="261.9" stroke="#666" stroke-width="0.7"/>
<line x1="382.85" y1="263.5" x2="382.85" y2="261.9" stroke="#666" stroke-width="0.7"/>
<line x1="387.66" y1="263.5" x2="387.66" y2="261.9" stroke="#666" stroke-width="0.7"/>
<line x1="392.46" y1="263.5" x2="392.46" y2="261.9" stroke="#666" stroke-width="0.7"/>
<line x1="397.27" y1="263.5" x2="397.27" y2="261.9" stroke="#666" stroke-width="0.7"/>
<line x1="402.07" y1="263.5" x2="402.07" y2="261.9" stroke="#666" stroke-width="0.7"/>
<line x1="406.88" y1="263.5" x2="406.88" y2="261.9" stroke="#666" stroke-width="0.7"/>
<line x1="411.68" y1="263.5" x2="411.68" y2="261.9" stroke="#666" stroke-width="0.7"/>
<line x1="416.49" y1="263.5" x2="416.49" y2="261.9" stroke="#666" stroke-width="0.7"/>
<line x1="421.29" y1="263.5" x2="421.29" y2="261.9" stroke="#666" stroke-width="0.7"/>
<line x1="426.1" y1="263.5" x2="426.1" y2="261.9" stroke="#666" stroke-width="0.7"/>
<text transform="translate(344.9 219.7)" font-size="8.3" text-anchor="start" fill="#222" font-weight="normal" stroke="#222" stroke-width="0.12"><tspan font-style="italic">x</tspan> = 0.4</text>
<rect x="339.6" y="263.5" width="86.5" height="54.3" fill="none" stroke="#7a7a7a" stroke-width="1.0"/>
<line x1="339.6" y1="317.8" x2="339.6" y2="316.2" stroke="#666" stroke-width="0.7"/>
<line x1="344.41" y1="317.8" x2="344.41" y2="316.2" stroke="#666" stroke-width="0.7"/>
<line x1="349.21" y1="317.8" x2="349.21" y2="316.2" stroke="#666" stroke-width="0.7"/>
<line x1="354.02" y1="317.8" x2="354.02" y2="316.2" stroke="#666" stroke-width="0.7"/>
<line x1="358.82" y1="317.8" x2="358.82" y2="316.2" stroke="#666" stroke-width="0.7"/>
<line x1="363.63" y1="317.8" x2="363.63" y2="316.2" stroke="#666" stroke-width="0.7"/>
<line x1="368.43" y1="317.8" x2="368.43" y2="316.2" stroke="#666" stroke-width="0.7"/>
<line x1="373.24" y1="317.8" x2="373.24" y2="316.2" stroke="#666" stroke-width="0.7"/>
<line x1="378.04" y1="317.8" x2="378.04" y2="316.2" stroke="#666" stroke-width="0.7"/>
<line x1="382.85" y1="317.8" x2="382.85" y2="316.2" stroke="#666" stroke-width="0.7"/>
<line x1="387.66" y1="317.8" x2="387.66" y2="316.2" stroke="#666" stroke-width="0.7"/>
<line x1="392.46" y1="317.8" x2="392.46" y2="316.2" stroke="#666" stroke-width="0.7"/>
<line x1="397.27" y1="317.8" x2="397.27" y2="316.2" stroke="#666" stroke-width="0.7"/>
<line x1="402.07" y1="317.8" x2="402.07" y2="316.2" stroke="#666" stroke-width="0.7"/>
<line x1="406.88" y1="317.8" x2="406.88" y2="316.2" stroke="#666" stroke-width="0.7"/>
<line x1="411.68" y1="317.8" x2="411.68" y2="316.2" stroke="#666" stroke-width="0.7"/>
<line x1="416.49" y1="317.8" x2="416.49" y2="316.2" stroke="#666" stroke-width="0.7"/>
<line x1="421.29" y1="317.8" x2="421.29" y2="316.2" stroke="#666" stroke-width="0.7"/>
<line x1="426.1" y1="317.8" x2="426.1" y2="316.2" stroke="#666" stroke-width="0.7"/>
<text transform="translate(344.9 274)" font-size="8.3" text-anchor="start" fill="#222" font-weight="normal" stroke="#222" stroke-width="0.12"><tspan font-style="italic">x</tspan> = 0.6</text>
<text transform="translate(53.2 331) scale(1 1.22)" font-size="8.3" text-anchor="middle" fill="#222" font-weight="normal" stroke="#222" stroke-width="0.24">949</text>
<text transform="translate(83.67 331) scale(1 1.22)" font-size="8.3" text-anchor="middle" fill="#222" font-weight="normal" stroke="#222" stroke-width="0.24">941</text>
<text transform="translate(114.13 331) scale(1 1.22)" font-size="8.3" text-anchor="middle" fill="#222" font-weight="normal" stroke="#222" stroke-width="0.24">933</text>
<text transform="translate(144.6 331) scale(1 1.22)" font-size="8.3" text-anchor="middle" fill="#222" font-weight="normal" stroke="#222" stroke-width="0.24">925</text>
<text transform="translate(166.6 331) scale(1 1.22)" font-size="8.3" text-anchor="middle" fill="#222" font-weight="normal" stroke="#222" stroke-width="0.24">354</text>
<text transform="translate(185.87 331) scale(1 1.22)" font-size="8.3" text-anchor="middle" fill="#222" font-weight="normal" stroke="#222" stroke-width="0.24">350</text>
<text transform="translate(205.13 331) scale(1 1.22)" font-size="8.3" text-anchor="middle" fill="#222" font-weight="normal" stroke="#222" stroke-width="0.24">346</text>
<text transform="translate(224.4 331) scale(1 1.22)" font-size="8.3" text-anchor="middle" fill="#222" font-weight="normal" stroke="#222" stroke-width="0.24">342</text>
<text transform="translate(246.4 331) scale(1 1.22)" font-size="8.3" text-anchor="middle" fill="#222" font-weight="normal" stroke="#222" stroke-width="0.24">168</text>
<text transform="translate(265.7 331) scale(1 1.22)" font-size="8.3" text-anchor="middle" fill="#222" font-weight="normal" stroke="#222" stroke-width="0.24">164</text>
<text transform="translate(285 331) scale(1 1.22)" font-size="8.3" text-anchor="middle" fill="#222" font-weight="normal" stroke="#222" stroke-width="0.24">160</text>
<text transform="translate(304.3 331) scale(1 1.22)" font-size="8.3" text-anchor="middle" fill="#222" font-weight="normal" stroke="#222" stroke-width="0.24">156</text>
<text transform="translate(323.6 331) scale(1 1.22)" font-size="8.3" text-anchor="middle" fill="#222" font-weight="normal" stroke="#222" stroke-width="0.24">152</text>
<text transform="translate(349.21 331) scale(1 1.22)" font-size="8.3" text-anchor="middle" fill="#222" font-weight="normal" stroke="#222" stroke-width="0.24">144</text>
<text transform="translate(368.43 331) scale(1 1.22)" font-size="8.3" text-anchor="middle" fill="#222" font-weight="normal" stroke="#222" stroke-width="0.24">140</text>
<text transform="translate(387.66 331) scale(1 1.22)" font-size="8.3" text-anchor="middle" fill="#222" font-weight="normal" stroke="#222" stroke-width="0.24">136</text>
<text transform="translate(406.88 331) scale(1 1.22)" font-size="8.3" text-anchor="middle" fill="#222" font-weight="normal" stroke="#222" stroke-width="0.24">132</text>
<text transform="translate(426.1 331) scale(1 1.22)" font-size="8.3" text-anchor="middle" fill="#222" font-weight="normal" stroke="#222" stroke-width="0.24">128</text>
<text transform="translate(98.9 341)" font-size="8.3" text-anchor="middle" fill="#222" font-weight="normal" stroke="#222" stroke-width="0.24">Binding Energy (eV)</text>
<text transform="translate(195.5 341)" font-size="8.3" text-anchor="middle" fill="#222" font-weight="normal" stroke="#222" stroke-width="0.24">Binding Energy (eV)</text>
<text transform="translate(285 341)" font-size="8.3" text-anchor="middle" fill="#222" font-weight="normal" stroke="#222" stroke-width="0.24">Binding Energy (eV)</text>
<text transform="translate(382.85 341)" font-size="8.3" text-anchor="middle" fill="#222" font-weight="normal" stroke="#222" stroke-width="0.24">Binding Energy (eV)</text>
<text transform="translate(44.2 237) rotate(-90)" font-size="8.6" text-anchor="middle" fill="#222" font-weight="normal" stroke="#222" stroke-width="0.24">Intensity (a.u.)</text>
<text transform="translate(84 148.3)" font-size="8.5" text-anchor="start" fill="#222" font-weight="normal" stroke="#222" stroke-width="0.24">Cu 2<tspan font-style="italic">p</tspan><tspan font-size="5.5" dy="1.8">3/2</tspan></text>
<text transform="translate(196.3 147.3)" font-size="8.5" text-anchor="middle" fill="#222" font-weight="normal" stroke="#222" stroke-width="0.24">Ca 2<tspan font-style="italic">p</tspan></text>
<text transform="translate(283 147.3)" font-size="8.5" text-anchor="middle" fill="#222" font-weight="normal" stroke="#222" stroke-width="0.24">Bi 4<tspan font-style="italic">f</tspan></text>
<text transform="translate(368.7 147.3)" font-size="8.5" text-anchor="middle" fill="#222" font-weight="normal" stroke="#222" stroke-width="0.24">Pb 4<tspan font-style="italic">f</tspan></text>
<text transform="translate(402.6 147.3)" font-size="8.5" text-anchor="middle" fill="#222" font-weight="normal" stroke="#222" stroke-width="0.24">Sr 3<tspan font-style="italic">d</tspan></text>
</g>
</svg>
</body></html>
